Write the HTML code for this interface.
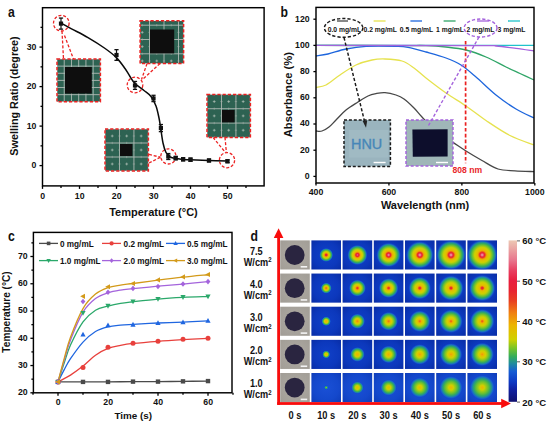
<!DOCTYPE html>
<html><head><meta charset="utf-8"><style>
html,body{margin:0;padding:0;background:#fff;width:550px;height:425px;overflow:hidden;}
svg{display:block;font-family:"Liberation Sans", sans-serif;}
</style></head><body>
<svg width="550" height="425" viewBox="0 0 550 425" font-family='"Liberation Sans", sans-serif'><defs><linearGradient id="cbar" x1="0" y1="0" x2="0" y2="1"><stop offset="0.000" stop-color="#ecc8b4"/><stop offset="0.125" stop-color="#e8748c"/><stop offset="0.188" stop-color="#e83e60"/><stop offset="0.250" stop-color="#e81e3e"/><stop offset="0.312" stop-color="#e82430"/><stop offset="0.375" stop-color="#e84020"/><stop offset="0.450" stop-color="#f08010"/><stop offset="0.525" stop-color="#ecb400"/><stop offset="0.613" stop-color="#d0d000"/><stop offset="0.668" stop-color="#78c428"/><stop offset="0.720" stop-color="#34ac5c"/><stop offset="0.762" stop-color="#208c9c"/><stop offset="0.812" stop-color="#165cd4"/><stop offset="0.875" stop-color="#0e3ac4"/><stop offset="0.925" stop-color="#1020a0"/><stop offset="1.000" stop-color="#10106e"/></linearGradient><radialGradient id="bgblue" cx="0.5" cy="0.5" r="0.72"><stop offset="0" stop-color="#1040c8"/><stop offset="0.6" stop-color="#0c38bc"/><stop offset="1" stop-color="#082ca4"/></radialGradient><radialGradient id="bgblue2" cx="0.5" cy="0.5" r="0.72"><stop offset="0" stop-color="#1a50d6"/><stop offset="0.6" stop-color="#1448cc"/><stop offset="1" stop-color="#0e3cb8"/></radialGradient><radialGradient id="grayph" cx="0.5" cy="0.5" r="0.75"><stop offset="0" stop-color="#aeaaa3"/><stop offset="1" stop-color="#a09c95"/></radialGradient><radialGradient id="sp0_1"><stop offset="0.000" stop-color="#e81e3e" stop-opacity="1.00"/><stop offset="0.050" stop-color="#e81f3b" stop-opacity="1.00"/><stop offset="0.100" stop-color="#e82332" stop-opacity="1.00"/><stop offset="0.150" stop-color="#e83a23" stop-opacity="1.00"/><stop offset="0.200" stop-color="#ed6916" stop-opacity="1.00"/><stop offset="0.250" stop-color="#ef930a" stop-opacity="1.00"/><stop offset="0.300" stop-color="#ecb300" stop-opacity="1.00"/><stop offset="0.350" stop-color="#e2be00" stop-opacity="1.00"/><stop offset="0.400" stop-color="#d9c700" stop-opacity="1.00"/><stop offset="0.450" stop-color="#d2ce00" stop-opacity="1.00"/><stop offset="0.500" stop-color="#bbcd0a" stop-opacity="1.00"/><stop offset="0.550" stop-color="#9cc918" stop-opacity="1.00"/><stop offset="0.600" stop-color="#7cc526" stop-opacity="1.00"/><stop offset="0.650" stop-color="#60bb3b" stop-opacity="1.00"/><stop offset="0.700" stop-color="#42b151" stop-opacity="1.00"/><stop offset="0.750" stop-color="#2ea26f" stop-opacity="1.00"/><stop offset="0.800" stop-color="#228f96" stop-opacity="1.00"/><stop offset="0.850" stop-color="#1b76b6" stop-opacity="1.00"/><stop offset="0.900" stop-color="#165bd4" stop-opacity="0.67"/><stop offset="0.950" stop-color="#124bcc" stop-opacity="0.33"/><stop offset="1.000" stop-color="#0e3ac4" stop-opacity="0.00"/></radialGradient><clipPath id="cl0_1"><rect x="311.40" y="240.40" width="29.60" height="29.10"/></clipPath><radialGradient id="sp0_2"><stop offset="0.000" stop-color="#e85e7a" stop-opacity="1.00"/><stop offset="0.050" stop-color="#e84c6b" stop-opacity="1.00"/><stop offset="0.100" stop-color="#e8294a" stop-opacity="1.00"/><stop offset="0.150" stop-color="#e82332" stop-opacity="1.00"/><stop offset="0.200" stop-color="#e9491e" stop-opacity="1.00"/><stop offset="0.250" stop-color="#f0830f" stop-opacity="1.00"/><stop offset="0.300" stop-color="#eda804" stop-opacity="1.00"/><stop offset="0.350" stop-color="#e5bb00" stop-opacity="1.00"/><stop offset="0.400" stop-color="#dcc400" stop-opacity="1.00"/><stop offset="0.450" stop-color="#d5cb00" stop-opacity="1.00"/><stop offset="0.500" stop-color="#c8cf03" stop-opacity="1.00"/><stop offset="0.550" stop-color="#a9cb12" stop-opacity="1.00"/><stop offset="0.600" stop-color="#88c621" stop-opacity="1.00"/><stop offset="0.650" stop-color="#69bf34" stop-opacity="1.00"/><stop offset="0.700" stop-color="#4ab44b" stop-opacity="1.00"/><stop offset="0.750" stop-color="#30a667" stop-opacity="1.00"/><stop offset="0.800" stop-color="#24928f" stop-opacity="1.00"/><stop offset="0.850" stop-color="#1c79b2" stop-opacity="1.00"/><stop offset="0.900" stop-color="#165dd3" stop-opacity="0.67"/><stop offset="0.950" stop-color="#124ccc" stop-opacity="0.33"/><stop offset="1.000" stop-color="#0e3ac4" stop-opacity="0.00"/></radialGradient><clipPath id="cl0_2"><rect x="342.60" y="240.40" width="29.60" height="29.10"/></clipPath><radialGradient id="sp0_3"><stop offset="0.000" stop-color="#e98594" stop-opacity="1.00"/><stop offset="0.050" stop-color="#e8748c" stop-opacity="1.00"/><stop offset="0.100" stop-color="#e83c5d" stop-opacity="1.00"/><stop offset="0.150" stop-color="#e82137" stop-opacity="1.00"/><stop offset="0.200" stop-color="#e83f21" stop-opacity="1.00"/><stop offset="0.250" stop-color="#f08010" stop-opacity="1.00"/><stop offset="0.300" stop-color="#eda804" stop-opacity="1.00"/><stop offset="0.350" stop-color="#e5bb00" stop-opacity="1.00"/><stop offset="0.400" stop-color="#dcc400" stop-opacity="1.00"/><stop offset="0.450" stop-color="#d5cb00" stop-opacity="1.00"/><stop offset="0.500" stop-color="#c8cf04" stop-opacity="1.00"/><stop offset="0.550" stop-color="#a9cb12" stop-opacity="1.00"/><stop offset="0.600" stop-color="#88c621" stop-opacity="1.00"/><stop offset="0.650" stop-color="#69bf34" stop-opacity="1.00"/><stop offset="0.700" stop-color="#4ab44b" stop-opacity="1.00"/><stop offset="0.750" stop-color="#30a667" stop-opacity="1.00"/><stop offset="0.800" stop-color="#24928f" stop-opacity="1.00"/><stop offset="0.850" stop-color="#1c79b2" stop-opacity="1.00"/><stop offset="0.900" stop-color="#165dd3" stop-opacity="0.67"/><stop offset="0.950" stop-color="#124ccc" stop-opacity="0.33"/><stop offset="1.000" stop-color="#0e3ac4" stop-opacity="0.00"/></radialGradient><clipPath id="cl0_3"><rect x="373.80" y="240.40" width="29.60" height="29.10"/></clipPath><radialGradient id="sp0_4"><stop offset="0.000" stop-color="#ea969c" stop-opacity="1.00"/><stop offset="0.050" stop-color="#e98293" stop-opacity="1.00"/><stop offset="0.100" stop-color="#e84566" stop-opacity="1.00"/><stop offset="0.150" stop-color="#e82138" stop-opacity="1.00"/><stop offset="0.200" stop-color="#e84120" stop-opacity="1.00"/><stop offset="0.250" stop-color="#f0840f" stop-opacity="1.00"/><stop offset="0.300" stop-color="#edac03" stop-opacity="1.00"/><stop offset="0.350" stop-color="#e3bd00" stop-opacity="1.00"/><stop offset="0.400" stop-color="#dbc500" stop-opacity="1.00"/><stop offset="0.450" stop-color="#d4cc00" stop-opacity="1.00"/><stop offset="0.500" stop-color="#c7cf04" stop-opacity="1.00"/><stop offset="0.550" stop-color="#a9cb12" stop-opacity="1.00"/><stop offset="0.600" stop-color="#88c621" stop-opacity="1.00"/><stop offset="0.650" stop-color="#69bf34" stop-opacity="1.00"/><stop offset="0.700" stop-color="#4ab44b" stop-opacity="1.00"/><stop offset="0.750" stop-color="#30a667" stop-opacity="1.00"/><stop offset="0.800" stop-color="#24928f" stop-opacity="1.00"/><stop offset="0.850" stop-color="#1c79b2" stop-opacity="1.00"/><stop offset="0.900" stop-color="#165dd3" stop-opacity="0.67"/><stop offset="0.950" stop-color="#124ccc" stop-opacity="0.33"/><stop offset="1.000" stop-color="#0e3ac4" stop-opacity="0.00"/></radialGradient><clipPath id="cl0_4"><rect x="405.00" y="240.40" width="29.60" height="29.10"/></clipPath><radialGradient id="sp0_5"><stop offset="0.000" stop-color="#ea969c" stop-opacity="1.00"/><stop offset="0.050" stop-color="#e98293" stop-opacity="1.00"/><stop offset="0.100" stop-color="#e84566" stop-opacity="1.00"/><stop offset="0.150" stop-color="#e82138" stop-opacity="1.00"/><stop offset="0.200" stop-color="#e84120" stop-opacity="1.00"/><stop offset="0.250" stop-color="#f0840f" stop-opacity="1.00"/><stop offset="0.300" stop-color="#edac03" stop-opacity="1.00"/><stop offset="0.350" stop-color="#e3bd00" stop-opacity="1.00"/><stop offset="0.400" stop-color="#dbc500" stop-opacity="1.00"/><stop offset="0.450" stop-color="#d4cc00" stop-opacity="1.00"/><stop offset="0.500" stop-color="#c7cf04" stop-opacity="1.00"/><stop offset="0.550" stop-color="#a9cb12" stop-opacity="1.00"/><stop offset="0.600" stop-color="#88c621" stop-opacity="1.00"/><stop offset="0.650" stop-color="#69bf34" stop-opacity="1.00"/><stop offset="0.700" stop-color="#4ab44b" stop-opacity="1.00"/><stop offset="0.750" stop-color="#30a667" stop-opacity="1.00"/><stop offset="0.800" stop-color="#24928f" stop-opacity="1.00"/><stop offset="0.850" stop-color="#1c79b2" stop-opacity="1.00"/><stop offset="0.900" stop-color="#165dd3" stop-opacity="0.67"/><stop offset="0.950" stop-color="#124ccc" stop-opacity="0.33"/><stop offset="1.000" stop-color="#0e3ac4" stop-opacity="0.00"/></radialGradient><clipPath id="cl0_5"><rect x="436.20" y="240.40" width="29.60" height="29.10"/></clipPath><radialGradient id="sp0_6"><stop offset="0.000" stop-color="#ea969c" stop-opacity="1.00"/><stop offset="0.050" stop-color="#e98192" stop-opacity="1.00"/><stop offset="0.100" stop-color="#e84062" stop-opacity="1.00"/><stop offset="0.150" stop-color="#e82236" stop-opacity="1.00"/><stop offset="0.200" stop-color="#e94a1d" stop-opacity="1.00"/><stop offset="0.250" stop-color="#ef8b0d" stop-opacity="1.00"/><stop offset="0.300" stop-color="#ecb001" stop-opacity="1.00"/><stop offset="0.350" stop-color="#e2be00" stop-opacity="1.00"/><stop offset="0.400" stop-color="#dac600" stop-opacity="1.00"/><stop offset="0.450" stop-color="#d4cc00" stop-opacity="1.00"/><stop offset="0.500" stop-color="#c7cf04" stop-opacity="1.00"/><stop offset="0.550" stop-color="#a8cb12" stop-opacity="1.00"/><stop offset="0.600" stop-color="#88c621" stop-opacity="1.00"/><stop offset="0.650" stop-color="#69bf34" stop-opacity="1.00"/><stop offset="0.700" stop-color="#4ab44b" stop-opacity="1.00"/><stop offset="0.750" stop-color="#30a667" stop-opacity="1.00"/><stop offset="0.800" stop-color="#24928f" stop-opacity="1.00"/><stop offset="0.850" stop-color="#1c79b2" stop-opacity="1.00"/><stop offset="0.900" stop-color="#165dd3" stop-opacity="0.67"/><stop offset="0.950" stop-color="#124ccc" stop-opacity="0.33"/><stop offset="1.000" stop-color="#0e3ac4" stop-opacity="0.00"/></radialGradient><clipPath id="cl0_6"><rect x="467.40" y="240.40" width="29.60" height="29.10"/></clipPath><radialGradient id="sp1_1"><stop offset="0.000" stop-color="#ed6b15" stop-opacity="1.00"/><stop offset="0.050" stop-color="#ee6f14" stop-opacity="1.00"/><stop offset="0.100" stop-color="#ef7c11" stop-opacity="1.00"/><stop offset="0.150" stop-color="#ef8c0c" stop-opacity="1.00"/><stop offset="0.200" stop-color="#ee9e07" stop-opacity="1.00"/><stop offset="0.250" stop-color="#ecb101" stop-opacity="1.00"/><stop offset="0.300" stop-color="#e4bc00" stop-opacity="1.00"/><stop offset="0.350" stop-color="#dcc400" stop-opacity="1.00"/><stop offset="0.400" stop-color="#d5cb00" stop-opacity="1.00"/><stop offset="0.450" stop-color="#c5ce05" stop-opacity="1.00"/><stop offset="0.500" stop-color="#a4ca14" stop-opacity="1.00"/><stop offset="0.550" stop-color="#85c622" stop-opacity="1.00"/><stop offset="0.600" stop-color="#69bf34" stop-opacity="1.00"/><stop offset="0.650" stop-color="#4eb548" stop-opacity="1.00"/><stop offset="0.700" stop-color="#34ab5d" stop-opacity="1.00"/><stop offset="0.750" stop-color="#299a7f" stop-opacity="1.00"/><stop offset="0.800" stop-color="#1f88a1" stop-opacity="1.00"/><stop offset="0.850" stop-color="#1a70bd" stop-opacity="1.00"/><stop offset="0.900" stop-color="#1559d3" stop-opacity="0.67"/><stop offset="0.950" stop-color="#124acb" stop-opacity="0.33"/><stop offset="1.000" stop-color="#0e3ac4" stop-opacity="0.00"/></radialGradient><clipPath id="cl1_1"><rect x="311.40" y="273.55" width="29.60" height="29.10"/></clipPath><radialGradient id="sp1_2"><stop offset="0.000" stop-color="#e82f2a" stop-opacity="1.00"/><stop offset="0.050" stop-color="#e83626" stop-opacity="1.00"/><stop offset="0.100" stop-color="#ea4d1d" stop-opacity="1.00"/><stop offset="0.150" stop-color="#ef7812" stop-opacity="1.00"/><stop offset="0.200" stop-color="#ee9c07" stop-opacity="1.00"/><stop offset="0.250" stop-color="#eab600" stop-opacity="1.00"/><stop offset="0.300" stop-color="#e0c000" stop-opacity="1.00"/><stop offset="0.350" stop-color="#d9c700" stop-opacity="1.00"/><stop offset="0.400" stop-color="#d3cd00" stop-opacity="1.00"/><stop offset="0.450" stop-color="#c4ce06" stop-opacity="1.00"/><stop offset="0.500" stop-color="#a9cb12" stop-opacity="1.00"/><stop offset="0.550" stop-color="#8dc71e" stop-opacity="1.00"/><stop offset="0.600" stop-color="#71c12e" stop-opacity="1.00"/><stop offset="0.650" stop-color="#57b842" stop-opacity="1.00"/><stop offset="0.700" stop-color="#3aae57" stop-opacity="1.00"/><stop offset="0.750" stop-color="#2b9e77" stop-opacity="1.00"/><stop offset="0.800" stop-color="#208c9c" stop-opacity="1.00"/><stop offset="0.850" stop-color="#1b73b9" stop-opacity="1.00"/><stop offset="0.900" stop-color="#165ad3" stop-opacity="0.67"/><stop offset="0.950" stop-color="#124acc" stop-opacity="0.33"/><stop offset="1.000" stop-color="#0e3ac4" stop-opacity="0.00"/></radialGradient><clipPath id="cl1_2"><rect x="342.60" y="273.55" width="29.60" height="29.10"/></clipPath><radialGradient id="sp1_3"><stop offset="0.000" stop-color="#e82430" stop-opacity="1.00"/><stop offset="0.050" stop-color="#e82d2b" stop-opacity="1.00"/><stop offset="0.100" stop-color="#e94a1d" stop-opacity="1.00"/><stop offset="0.150" stop-color="#f08110" stop-opacity="1.00"/><stop offset="0.200" stop-color="#eda804" stop-opacity="1.00"/><stop offset="0.250" stop-color="#e5bb00" stop-opacity="1.00"/><stop offset="0.300" stop-color="#ddc300" stop-opacity="1.00"/><stop offset="0.350" stop-color="#d7c900" stop-opacity="1.00"/><stop offset="0.400" stop-color="#d2ce00" stop-opacity="1.00"/><stop offset="0.450" stop-color="#c2ce06" stop-opacity="1.00"/><stop offset="0.500" stop-color="#a9cb12" stop-opacity="1.00"/><stop offset="0.550" stop-color="#8dc71e" stop-opacity="1.00"/><stop offset="0.600" stop-color="#71c12e" stop-opacity="1.00"/><stop offset="0.650" stop-color="#57b842" stop-opacity="1.00"/><stop offset="0.700" stop-color="#3aae57" stop-opacity="1.00"/><stop offset="0.750" stop-color="#2b9e77" stop-opacity="1.00"/><stop offset="0.800" stop-color="#208c9c" stop-opacity="1.00"/><stop offset="0.850" stop-color="#1b73b9" stop-opacity="1.00"/><stop offset="0.900" stop-color="#165ad3" stop-opacity="0.67"/><stop offset="0.950" stop-color="#124acc" stop-opacity="0.33"/><stop offset="1.000" stop-color="#0e3ac4" stop-opacity="0.00"/></radialGradient><clipPath id="cl1_3"><rect x="373.80" y="273.55" width="29.60" height="29.10"/></clipPath><radialGradient id="sp1_4"><stop offset="0.000" stop-color="#e82236" stop-opacity="1.00"/><stop offset="0.050" stop-color="#e82530" stop-opacity="1.00"/><stop offset="0.100" stop-color="#e8441f" stop-opacity="1.00"/><stop offset="0.150" stop-color="#f0830f" stop-opacity="1.00"/><stop offset="0.200" stop-color="#edac02" stop-opacity="1.00"/><stop offset="0.250" stop-color="#e3bd00" stop-opacity="1.00"/><stop offset="0.300" stop-color="#dcc400" stop-opacity="1.00"/><stop offset="0.350" stop-color="#d6ca00" stop-opacity="1.00"/><stop offset="0.400" stop-color="#d2ce00" stop-opacity="1.00"/><stop offset="0.450" stop-color="#c2ce06" stop-opacity="1.00"/><stop offset="0.500" stop-color="#a9cb12" stop-opacity="1.00"/><stop offset="0.550" stop-color="#8dc71e" stop-opacity="1.00"/><stop offset="0.600" stop-color="#71c12e" stop-opacity="1.00"/><stop offset="0.650" stop-color="#57b842" stop-opacity="1.00"/><stop offset="0.700" stop-color="#3aae57" stop-opacity="1.00"/><stop offset="0.750" stop-color="#2b9e77" stop-opacity="1.00"/><stop offset="0.800" stop-color="#208c9c" stop-opacity="1.00"/><stop offset="0.850" stop-color="#1b73b9" stop-opacity="1.00"/><stop offset="0.900" stop-color="#165ad3" stop-opacity="0.67"/><stop offset="0.950" stop-color="#124acc" stop-opacity="0.33"/><stop offset="1.000" stop-color="#0e3ac4" stop-opacity="0.00"/></radialGradient><clipPath id="cl1_4"><rect x="405.00" y="273.55" width="29.60" height="29.10"/></clipPath><radialGradient id="sp1_5"><stop offset="0.000" stop-color="#e82236" stop-opacity="1.00"/><stop offset="0.050" stop-color="#e8272e" stop-opacity="1.00"/><stop offset="0.100" stop-color="#ea521c" stop-opacity="1.00"/><stop offset="0.150" stop-color="#ef910b" stop-opacity="1.00"/><stop offset="0.200" stop-color="#eab600" stop-opacity="1.00"/><stop offset="0.250" stop-color="#e0c000" stop-opacity="1.00"/><stop offset="0.300" stop-color="#dac600" stop-opacity="1.00"/><stop offset="0.350" stop-color="#d6ca00" stop-opacity="1.00"/><stop offset="0.400" stop-color="#d2ce00" stop-opacity="1.00"/><stop offset="0.450" stop-color="#c2ce06" stop-opacity="1.00"/><stop offset="0.500" stop-color="#a9cb12" stop-opacity="1.00"/><stop offset="0.550" stop-color="#8dc71e" stop-opacity="1.00"/><stop offset="0.600" stop-color="#71c12e" stop-opacity="1.00"/><stop offset="0.650" stop-color="#57b842" stop-opacity="1.00"/><stop offset="0.700" stop-color="#3aae57" stop-opacity="1.00"/><stop offset="0.750" stop-color="#2b9e77" stop-opacity="1.00"/><stop offset="0.800" stop-color="#208c9c" stop-opacity="1.00"/><stop offset="0.850" stop-color="#1b73b9" stop-opacity="1.00"/><stop offset="0.900" stop-color="#165ad3" stop-opacity="0.67"/><stop offset="0.950" stop-color="#124acc" stop-opacity="0.33"/><stop offset="1.000" stop-color="#0e3ac4" stop-opacity="0.00"/></radialGradient><clipPath id="cl1_5"><rect x="436.20" y="273.55" width="29.60" height="29.10"/></clipPath><radialGradient id="sp1_6"><stop offset="0.000" stop-color="#e81f3b" stop-opacity="1.00"/><stop offset="0.050" stop-color="#e82333" stop-opacity="1.00"/><stop offset="0.100" stop-color="#e94c1d" stop-opacity="1.00"/><stop offset="0.150" stop-color="#ef920a" stop-opacity="1.00"/><stop offset="0.200" stop-color="#e9b700" stop-opacity="1.00"/><stop offset="0.250" stop-color="#dfc100" stop-opacity="1.00"/><stop offset="0.300" stop-color="#dac600" stop-opacity="1.00"/><stop offset="0.350" stop-color="#d6ca00" stop-opacity="1.00"/><stop offset="0.400" stop-color="#d2ce00" stop-opacity="1.00"/><stop offset="0.450" stop-color="#c2ce06" stop-opacity="1.00"/><stop offset="0.500" stop-color="#a9cb12" stop-opacity="1.00"/><stop offset="0.550" stop-color="#8dc71e" stop-opacity="1.00"/><stop offset="0.600" stop-color="#71c12e" stop-opacity="1.00"/><stop offset="0.650" stop-color="#57b842" stop-opacity="1.00"/><stop offset="0.700" stop-color="#3aae57" stop-opacity="1.00"/><stop offset="0.750" stop-color="#2b9e77" stop-opacity="1.00"/><stop offset="0.800" stop-color="#208c9c" stop-opacity="1.00"/><stop offset="0.850" stop-color="#1b73b9" stop-opacity="1.00"/><stop offset="0.900" stop-color="#165ad3" stop-opacity="0.67"/><stop offset="0.950" stop-color="#124acc" stop-opacity="0.33"/><stop offset="1.000" stop-color="#0e3ac4" stop-opacity="0.00"/></radialGradient><clipPath id="cl1_6"><rect x="467.40" y="273.55" width="29.60" height="29.10"/></clipPath><radialGradient id="sp2_1"><stop offset="0.000" stop-color="#edab03" stop-opacity="1.00"/><stop offset="0.050" stop-color="#edad02" stop-opacity="1.00"/><stop offset="0.100" stop-color="#ecb201" stop-opacity="1.00"/><stop offset="0.150" stop-color="#e9b700" stop-opacity="1.00"/><stop offset="0.200" stop-color="#e5bb00" stop-opacity="1.00"/><stop offset="0.250" stop-color="#e0c000" stop-opacity="1.00"/><stop offset="0.300" stop-color="#dac600" stop-opacity="1.00"/><stop offset="0.350" stop-color="#d5cb00" stop-opacity="1.00"/><stop offset="0.400" stop-color="#cbcf02" stop-opacity="1.00"/><stop offset="0.450" stop-color="#afcc0f" stop-opacity="1.00"/><stop offset="0.500" stop-color="#93c81c" stop-opacity="1.00"/><stop offset="0.550" stop-color="#77c429" stop-opacity="1.00"/><stop offset="0.600" stop-color="#5fbb3b" stop-opacity="1.00"/><stop offset="0.650" stop-color="#45b24f" stop-opacity="1.00"/><stop offset="0.700" stop-color="#31a766" stop-opacity="1.00"/><stop offset="0.750" stop-color="#279787" stop-opacity="1.00"/><stop offset="0.800" stop-color="#1e84a6" stop-opacity="1.00"/><stop offset="0.850" stop-color="#196dc1" stop-opacity="1.00"/><stop offset="0.900" stop-color="#1558d2" stop-opacity="0.67"/><stop offset="0.950" stop-color="#1249cb" stop-opacity="0.33"/><stop offset="1.000" stop-color="#0e3ac4" stop-opacity="0.00"/></radialGradient><clipPath id="cl2_1"><rect x="311.40" y="306.70" width="29.60" height="29.10"/></clipPath><radialGradient id="sp2_2"><stop offset="0.000" stop-color="#ef890d" stop-opacity="1.00"/><stop offset="0.050" stop-color="#ef8d0c" stop-opacity="1.00"/><stop offset="0.100" stop-color="#ee9908" stop-opacity="1.00"/><stop offset="0.150" stop-color="#eda903" stop-opacity="1.00"/><stop offset="0.200" stop-color="#e8b800" stop-opacity="1.00"/><stop offset="0.250" stop-color="#e0c000" stop-opacity="1.00"/><stop offset="0.300" stop-color="#d9c700" stop-opacity="1.00"/><stop offset="0.350" stop-color="#d3cd00" stop-opacity="1.00"/><stop offset="0.400" stop-color="#c1ce07" stop-opacity="1.00"/><stop offset="0.450" stop-color="#a7ca13" stop-opacity="1.00"/><stop offset="0.500" stop-color="#8dc71e" stop-opacity="1.00"/><stop offset="0.550" stop-color="#74c22b" stop-opacity="1.00"/><stop offset="0.600" stop-color="#5dba3d" stop-opacity="1.00"/><stop offset="0.650" stop-color="#44b24f" stop-opacity="1.00"/><stop offset="0.700" stop-color="#31a667" stop-opacity="1.00"/><stop offset="0.750" stop-color="#279687" stop-opacity="1.00"/><stop offset="0.800" stop-color="#1e84a6" stop-opacity="1.00"/><stop offset="0.850" stop-color="#196dc1" stop-opacity="1.00"/><stop offset="0.900" stop-color="#1558d2" stop-opacity="0.67"/><stop offset="0.950" stop-color="#1249cb" stop-opacity="0.33"/><stop offset="1.000" stop-color="#0e3ac4" stop-opacity="0.00"/></radialGradient><clipPath id="cl2_2"><rect x="342.60" y="306.70" width="29.60" height="29.10"/></clipPath><radialGradient id="sp2_3"><stop offset="0.000" stop-color="#ef7513" stop-opacity="1.00"/><stop offset="0.050" stop-color="#f07e10" stop-opacity="1.00"/><stop offset="0.100" stop-color="#ef920b" stop-opacity="1.00"/><stop offset="0.150" stop-color="#edaa03" stop-opacity="1.00"/><stop offset="0.200" stop-color="#e6ba00" stop-opacity="1.00"/><stop offset="0.250" stop-color="#ddc300" stop-opacity="1.00"/><stop offset="0.300" stop-color="#d6ca00" stop-opacity="1.00"/><stop offset="0.350" stop-color="#d0d000" stop-opacity="1.00"/><stop offset="0.400" stop-color="#bacd0a" stop-opacity="1.00"/><stop offset="0.450" stop-color="#a3ca14" stop-opacity="1.00"/><stop offset="0.500" stop-color="#8cc71f" stop-opacity="1.00"/><stop offset="0.550" stop-color="#73c22c" stop-opacity="1.00"/><stop offset="0.600" stop-color="#5dba3d" stop-opacity="1.00"/><stop offset="0.650" stop-color="#44b24f" stop-opacity="1.00"/><stop offset="0.700" stop-color="#31a667" stop-opacity="1.00"/><stop offset="0.750" stop-color="#279687" stop-opacity="1.00"/><stop offset="0.800" stop-color="#1e84a6" stop-opacity="1.00"/><stop offset="0.850" stop-color="#196dc1" stop-opacity="1.00"/><stop offset="0.900" stop-color="#1558d2" stop-opacity="0.67"/><stop offset="0.950" stop-color="#1249cb" stop-opacity="0.33"/><stop offset="1.000" stop-color="#0e3ac4" stop-opacity="0.00"/></radialGradient><clipPath id="cl2_3"><rect x="373.80" y="306.70" width="29.60" height="29.10"/></clipPath><radialGradient id="sp2_4"><stop offset="0.000" stop-color="#ed6b15" stop-opacity="1.00"/><stop offset="0.050" stop-color="#ef7712" stop-opacity="1.00"/><stop offset="0.100" stop-color="#ef920b" stop-opacity="1.00"/><stop offset="0.150" stop-color="#ecaf01" stop-opacity="1.00"/><stop offset="0.200" stop-color="#e2be00" stop-opacity="1.00"/><stop offset="0.250" stop-color="#dac600" stop-opacity="1.00"/><stop offset="0.300" stop-color="#d4cc00" stop-opacity="1.00"/><stop offset="0.350" stop-color="#cdd001" stop-opacity="1.00"/><stop offset="0.400" stop-color="#b8cd0b" stop-opacity="1.00"/><stop offset="0.450" stop-color="#a3ca15" stop-opacity="1.00"/><stop offset="0.500" stop-color="#8bc71f" stop-opacity="1.00"/><stop offset="0.550" stop-color="#73c22c" stop-opacity="1.00"/><stop offset="0.600" stop-color="#5dba3d" stop-opacity="1.00"/><stop offset="0.650" stop-color="#44b24f" stop-opacity="1.00"/><stop offset="0.700" stop-color="#31a667" stop-opacity="1.00"/><stop offset="0.750" stop-color="#279687" stop-opacity="1.00"/><stop offset="0.800" stop-color="#1e84a6" stop-opacity="1.00"/><stop offset="0.850" stop-color="#196dc1" stop-opacity="1.00"/><stop offset="0.900" stop-color="#1558d2" stop-opacity="0.67"/><stop offset="0.950" stop-color="#1249cb" stop-opacity="0.33"/><stop offset="1.000" stop-color="#0e3ac4" stop-opacity="0.00"/></radialGradient><clipPath id="cl2_4"><rect x="405.00" y="306.70" width="29.60" height="29.10"/></clipPath><radialGradient id="sp2_5"><stop offset="0.000" stop-color="#ec6018" stop-opacity="1.00"/><stop offset="0.050" stop-color="#ee6f14" stop-opacity="1.00"/><stop offset="0.100" stop-color="#ef910b" stop-opacity="1.00"/><stop offset="0.150" stop-color="#ecb300" stop-opacity="1.00"/><stop offset="0.200" stop-color="#e0c000" stop-opacity="1.00"/><stop offset="0.250" stop-color="#d8c800" stop-opacity="1.00"/><stop offset="0.300" stop-color="#d3cd00" stop-opacity="1.00"/><stop offset="0.350" stop-color="#cccf02" stop-opacity="1.00"/><stop offset="0.400" stop-color="#b8cd0b" stop-opacity="1.00"/><stop offset="0.450" stop-color="#a3ca15" stop-opacity="1.00"/><stop offset="0.500" stop-color="#8bc71f" stop-opacity="1.00"/><stop offset="0.550" stop-color="#73c22c" stop-opacity="1.00"/><stop offset="0.600" stop-color="#5dba3d" stop-opacity="1.00"/><stop offset="0.650" stop-color="#44b24f" stop-opacity="1.00"/><stop offset="0.700" stop-color="#31a667" stop-opacity="1.00"/><stop offset="0.750" stop-color="#279687" stop-opacity="1.00"/><stop offset="0.800" stop-color="#1e84a6" stop-opacity="1.00"/><stop offset="0.850" stop-color="#196dc1" stop-opacity="1.00"/><stop offset="0.900" stop-color="#1558d2" stop-opacity="0.67"/><stop offset="0.950" stop-color="#1249cb" stop-opacity="0.33"/><stop offset="1.000" stop-color="#0e3ac4" stop-opacity="0.00"/></radialGradient><clipPath id="cl2_5"><rect x="436.20" y="306.70" width="29.60" height="29.10"/></clipPath><radialGradient id="sp2_6"><stop offset="0.000" stop-color="#eb551b" stop-opacity="1.00"/><stop offset="0.050" stop-color="#ed6716" stop-opacity="1.00"/><stop offset="0.100" stop-color="#ef8e0c" stop-opacity="1.00"/><stop offset="0.150" stop-color="#ecb300" stop-opacity="1.00"/><stop offset="0.200" stop-color="#e0c000" stop-opacity="1.00"/><stop offset="0.250" stop-color="#d8c800" stop-opacity="1.00"/><stop offset="0.300" stop-color="#d3cd00" stop-opacity="1.00"/><stop offset="0.350" stop-color="#cbcf02" stop-opacity="1.00"/><stop offset="0.400" stop-color="#b8cd0b" stop-opacity="1.00"/><stop offset="0.450" stop-color="#a3ca15" stop-opacity="1.00"/><stop offset="0.500" stop-color="#8bc71f" stop-opacity="1.00"/><stop offset="0.550" stop-color="#73c22c" stop-opacity="1.00"/><stop offset="0.600" stop-color="#5dba3d" stop-opacity="1.00"/><stop offset="0.650" stop-color="#44b24f" stop-opacity="1.00"/><stop offset="0.700" stop-color="#31a667" stop-opacity="1.00"/><stop offset="0.750" stop-color="#279687" stop-opacity="1.00"/><stop offset="0.800" stop-color="#1e84a6" stop-opacity="1.00"/><stop offset="0.850" stop-color="#196dc1" stop-opacity="1.00"/><stop offset="0.900" stop-color="#1558d2" stop-opacity="0.67"/><stop offset="0.950" stop-color="#1249cb" stop-opacity="0.33"/><stop offset="1.000" stop-color="#0e3ac4" stop-opacity="0.00"/></radialGradient><clipPath id="cl2_6"><rect x="467.40" y="306.70" width="29.60" height="29.10"/></clipPath><radialGradient id="sp3_1"><stop offset="0.000" stop-color="#e4bc00" stop-opacity="1.00"/><stop offset="0.050" stop-color="#e4bc00" stop-opacity="1.00"/><stop offset="0.100" stop-color="#e2be00" stop-opacity="1.00"/><stop offset="0.150" stop-color="#e0c000" stop-opacity="1.00"/><stop offset="0.200" stop-color="#dec200" stop-opacity="1.00"/><stop offset="0.250" stop-color="#dac600" stop-opacity="1.00"/><stop offset="0.300" stop-color="#d6ca00" stop-opacity="1.00"/><stop offset="0.350" stop-color="#d2ce00" stop-opacity="1.00"/><stop offset="0.400" stop-color="#c5ce05" stop-opacity="1.00"/><stop offset="0.450" stop-color="#accb10" stop-opacity="1.00"/><stop offset="0.500" stop-color="#92c81c" stop-opacity="1.00"/><stop offset="0.550" stop-color="#77c429" stop-opacity="1.00"/><stop offset="0.600" stop-color="#5fbb3b" stop-opacity="1.00"/><stop offset="0.650" stop-color="#46b24e" stop-opacity="1.00"/><stop offset="0.700" stop-color="#31a766" stop-opacity="1.00"/><stop offset="0.750" stop-color="#279786" stop-opacity="1.00"/><stop offset="0.800" stop-color="#1e84a6" stop-opacity="1.00"/><stop offset="0.850" stop-color="#196dc1" stop-opacity="1.00"/><stop offset="0.900" stop-color="#1558d2" stop-opacity="0.67"/><stop offset="0.950" stop-color="#1249cb" stop-opacity="0.33"/><stop offset="1.000" stop-color="#0e3ac4" stop-opacity="0.00"/></radialGradient><clipPath id="cl3_1"><rect x="311.40" y="339.85" width="29.60" height="29.10"/></clipPath><radialGradient id="sp3_2"><stop offset="0.000" stop-color="#ecb400" stop-opacity="1.00"/><stop offset="0.050" stop-color="#ebb500" stop-opacity="1.00"/><stop offset="0.100" stop-color="#e8b800" stop-opacity="1.00"/><stop offset="0.150" stop-color="#e4bc00" stop-opacity="1.00"/><stop offset="0.200" stop-color="#dfc100" stop-opacity="1.00"/><stop offset="0.250" stop-color="#dac600" stop-opacity="1.00"/><stop offset="0.300" stop-color="#d4cc00" stop-opacity="1.00"/><stop offset="0.350" stop-color="#cbcf02" stop-opacity="1.00"/><stop offset="0.400" stop-color="#b2cc0e" stop-opacity="1.00"/><stop offset="0.450" stop-color="#99c819" stop-opacity="1.00"/><stop offset="0.500" stop-color="#80c524" stop-opacity="1.00"/><stop offset="0.550" stop-color="#69bf33" stop-opacity="1.00"/><stop offset="0.600" stop-color="#53b744" stop-opacity="1.00"/><stop offset="0.650" stop-color="#3caf56" stop-opacity="1.00"/><stop offset="0.700" stop-color="#2ea270" stop-opacity="1.00"/><stop offset="0.750" stop-color="#24928f" stop-opacity="1.00"/><stop offset="0.800" stop-color="#1d7fab" stop-opacity="1.00"/><stop offset="0.850" stop-color="#1969c4" stop-opacity="1.00"/><stop offset="0.900" stop-color="#1556d1" stop-opacity="0.67"/><stop offset="0.950" stop-color="#1149cb" stop-opacity="0.33"/><stop offset="1.000" stop-color="#0e3ac4" stop-opacity="0.00"/></radialGradient><clipPath id="cl3_2"><rect x="342.60" y="339.85" width="29.60" height="29.10"/></clipPath><radialGradient id="sp3_3"><stop offset="0.000" stop-color="#edab03" stop-opacity="1.00"/><stop offset="0.050" stop-color="#ecaf02" stop-opacity="1.00"/><stop offset="0.100" stop-color="#eab600" stop-opacity="1.00"/><stop offset="0.150" stop-color="#e5bb00" stop-opacity="1.00"/><stop offset="0.200" stop-color="#dec200" stop-opacity="1.00"/><stop offset="0.250" stop-color="#d8c800" stop-opacity="1.00"/><stop offset="0.300" stop-color="#d3cd00" stop-opacity="1.00"/><stop offset="0.350" stop-color="#c3ce06" stop-opacity="1.00"/><stop offset="0.400" stop-color="#accb10" stop-opacity="1.00"/><stop offset="0.450" stop-color="#95c81b" stop-opacity="1.00"/><stop offset="0.500" stop-color="#7ec525" stop-opacity="1.00"/><stop offset="0.550" stop-color="#68be34" stop-opacity="1.00"/><stop offset="0.600" stop-color="#53b745" stop-opacity="1.00"/><stop offset="0.650" stop-color="#3baf56" stop-opacity="1.00"/><stop offset="0.700" stop-color="#2ea270" stop-opacity="1.00"/><stop offset="0.750" stop-color="#24928f" stop-opacity="1.00"/><stop offset="0.800" stop-color="#1d7fab" stop-opacity="1.00"/><stop offset="0.850" stop-color="#1969c4" stop-opacity="1.00"/><stop offset="0.900" stop-color="#1556d1" stop-opacity="0.67"/><stop offset="0.950" stop-color="#1149cb" stop-opacity="0.33"/><stop offset="1.000" stop-color="#0e3ac4" stop-opacity="0.00"/></radialGradient><clipPath id="cl3_3"><rect x="373.80" y="339.85" width="29.60" height="29.10"/></clipPath><radialGradient id="sp3_4"><stop offset="0.000" stop-color="#eda305" stop-opacity="1.00"/><stop offset="0.050" stop-color="#eda704" stop-opacity="1.00"/><stop offset="0.100" stop-color="#ecb400" stop-opacity="1.00"/><stop offset="0.150" stop-color="#e5bb00" stop-opacity="1.00"/><stop offset="0.200" stop-color="#ddc300" stop-opacity="1.00"/><stop offset="0.250" stop-color="#d6ca00" stop-opacity="1.00"/><stop offset="0.300" stop-color="#d1cf00" stop-opacity="1.00"/><stop offset="0.350" stop-color="#bece08" stop-opacity="1.00"/><stop offset="0.400" stop-color="#a9cb12" stop-opacity="1.00"/><stop offset="0.450" stop-color="#94c81b" stop-opacity="1.00"/><stop offset="0.500" stop-color="#7dc526" stop-opacity="1.00"/><stop offset="0.550" stop-color="#68be34" stop-opacity="1.00"/><stop offset="0.600" stop-color="#53b745" stop-opacity="1.00"/><stop offset="0.650" stop-color="#3baf56" stop-opacity="1.00"/><stop offset="0.700" stop-color="#2ea270" stop-opacity="1.00"/><stop offset="0.750" stop-color="#24928f" stop-opacity="1.00"/><stop offset="0.800" stop-color="#1d7fab" stop-opacity="1.00"/><stop offset="0.850" stop-color="#1969c4" stop-opacity="1.00"/><stop offset="0.900" stop-color="#1556d1" stop-opacity="0.67"/><stop offset="0.950" stop-color="#1149cb" stop-opacity="0.33"/><stop offset="1.000" stop-color="#0e3ac4" stop-opacity="0.00"/></radialGradient><clipPath id="cl3_4"><rect x="405.00" y="339.85" width="29.60" height="29.10"/></clipPath><radialGradient id="sp3_5"><stop offset="0.000" stop-color="#eda305" stop-opacity="1.00"/><stop offset="0.050" stop-color="#eda804" stop-opacity="1.00"/><stop offset="0.100" stop-color="#ebb500" stop-opacity="1.00"/><stop offset="0.150" stop-color="#e3bd00" stop-opacity="1.00"/><stop offset="0.200" stop-color="#dbc500" stop-opacity="1.00"/><stop offset="0.250" stop-color="#d5cb00" stop-opacity="1.00"/><stop offset="0.300" stop-color="#d0d000" stop-opacity="1.00"/><stop offset="0.350" stop-color="#bccd09" stop-opacity="1.00"/><stop offset="0.400" stop-color="#a8cb12" stop-opacity="1.00"/><stop offset="0.450" stop-color="#93c81c" stop-opacity="1.00"/><stop offset="0.500" stop-color="#7dc526" stop-opacity="1.00"/><stop offset="0.550" stop-color="#68be34" stop-opacity="1.00"/><stop offset="0.600" stop-color="#53b745" stop-opacity="1.00"/><stop offset="0.650" stop-color="#3baf56" stop-opacity="1.00"/><stop offset="0.700" stop-color="#2ea270" stop-opacity="1.00"/><stop offset="0.750" stop-color="#24928f" stop-opacity="1.00"/><stop offset="0.800" stop-color="#1d7fab" stop-opacity="1.00"/><stop offset="0.850" stop-color="#1969c4" stop-opacity="1.00"/><stop offset="0.900" stop-color="#1556d1" stop-opacity="0.67"/><stop offset="0.950" stop-color="#1149cb" stop-opacity="0.33"/><stop offset="1.000" stop-color="#0e3ac4" stop-opacity="0.00"/></radialGradient><clipPath id="cl3_5"><rect x="436.20" y="339.85" width="29.60" height="29.10"/></clipPath><radialGradient id="sp3_6"><stop offset="0.000" stop-color="#ee9a08" stop-opacity="1.00"/><stop offset="0.050" stop-color="#eda106" stop-opacity="1.00"/><stop offset="0.100" stop-color="#ecb101" stop-opacity="1.00"/><stop offset="0.150" stop-color="#e4bc00" stop-opacity="1.00"/><stop offset="0.200" stop-color="#dbc500" stop-opacity="1.00"/><stop offset="0.250" stop-color="#d5cb00" stop-opacity="1.00"/><stop offset="0.300" stop-color="#d0d000" stop-opacity="1.00"/><stop offset="0.350" stop-color="#bbcd09" stop-opacity="1.00"/><stop offset="0.400" stop-color="#a8cb12" stop-opacity="1.00"/><stop offset="0.450" stop-color="#93c81c" stop-opacity="1.00"/><stop offset="0.500" stop-color="#7dc526" stop-opacity="1.00"/><stop offset="0.550" stop-color="#68be34" stop-opacity="1.00"/><stop offset="0.600" stop-color="#53b745" stop-opacity="1.00"/><stop offset="0.650" stop-color="#3baf56" stop-opacity="1.00"/><stop offset="0.700" stop-color="#2ea270" stop-opacity="1.00"/><stop offset="0.750" stop-color="#24928f" stop-opacity="1.00"/><stop offset="0.800" stop-color="#1d7fab" stop-opacity="1.00"/><stop offset="0.850" stop-color="#1969c4" stop-opacity="1.00"/><stop offset="0.900" stop-color="#1556d1" stop-opacity="0.67"/><stop offset="0.950" stop-color="#1149cb" stop-opacity="0.33"/><stop offset="1.000" stop-color="#0e3ac4" stop-opacity="0.00"/></radialGradient><clipPath id="cl3_6"><rect x="467.40" y="339.85" width="29.60" height="29.10"/></clipPath><radialGradient id="sp4_1"><stop offset="0.000" stop-color="#94c81b" stop-opacity="1.00"/><stop offset="0.050" stop-color="#91c71d" stop-opacity="1.00"/><stop offset="0.100" stop-color="#88c621" stop-opacity="1.00"/><stop offset="0.150" stop-color="#7ac427" stop-opacity="1.00"/><stop offset="0.200" stop-color="#6abf32" stop-opacity="1.00"/><stop offset="0.250" stop-color="#59b940" stop-opacity="1.00"/><stop offset="0.300" stop-color="#47b34e" stop-opacity="1.00"/><stop offset="0.350" stop-color="#34ac5d" stop-opacity="1.00"/><stop offset="0.400" stop-color="#2da173" stop-opacity="1.00"/><stop offset="0.450" stop-color="#269688" stop-opacity="1.00"/><stop offset="0.500" stop-color="#208c9c" stop-opacity="1.00"/><stop offset="0.550" stop-color="#1d80aa" stop-opacity="1.00"/><stop offset="0.600" stop-color="#1b75b7" stop-opacity="1.00"/><stop offset="0.650" stop-color="#196ac4" stop-opacity="1.00"/><stop offset="0.700" stop-color="#1760d0" stop-opacity="1.00"/><stop offset="0.750" stop-color="#1558d2" stop-opacity="1.00"/><stop offset="0.800" stop-color="#1452d0" stop-opacity="1.00"/><stop offset="0.850" stop-color="#124dcd" stop-opacity="1.00"/><stop offset="0.900" stop-color="#1147ca" stop-opacity="0.67"/><stop offset="0.950" stop-color="#1041c7" stop-opacity="0.33"/><stop offset="1.000" stop-color="#0e3ac4" stop-opacity="0.00"/></radialGradient><clipPath id="cl4_1"><rect x="311.40" y="373.00" width="29.60" height="29.10"/></clipPath><radialGradient id="sp4_2"><stop offset="0.000" stop-color="#e0c000" stop-opacity="1.00"/><stop offset="0.050" stop-color="#dfc100" stop-opacity="1.00"/><stop offset="0.100" stop-color="#dec200" stop-opacity="1.00"/><stop offset="0.150" stop-color="#dbc500" stop-opacity="1.00"/><stop offset="0.200" stop-color="#d8c800" stop-opacity="1.00"/><stop offset="0.250" stop-color="#d4cc00" stop-opacity="1.00"/><stop offset="0.300" stop-color="#cfd001" stop-opacity="1.00"/><stop offset="0.350" stop-color="#b9cd0b" stop-opacity="1.00"/><stop offset="0.400" stop-color="#a2ca15" stop-opacity="1.00"/><stop offset="0.450" stop-color="#8bc720" stop-opacity="1.00"/><stop offset="0.500" stop-color="#73c22b" stop-opacity="1.00"/><stop offset="0.550" stop-color="#5fbb3b" stop-opacity="1.00"/><stop offset="0.600" stop-color="#4ab44c" stop-opacity="1.00"/><stop offset="0.650" stop-color="#34ab5d" stop-opacity="1.00"/><stop offset="0.700" stop-color="#2b9d79" stop-opacity="1.00"/><stop offset="0.750" stop-color="#228f97" stop-opacity="1.00"/><stop offset="0.800" stop-color="#1d7bb0" stop-opacity="1.00"/><stop offset="0.850" stop-color="#1866c8" stop-opacity="1.00"/><stop offset="0.900" stop-color="#1455d1" stop-opacity="0.67"/><stop offset="0.950" stop-color="#1148cb" stop-opacity="0.33"/><stop offset="1.000" stop-color="#0e3ac4" stop-opacity="0.00"/></radialGradient><clipPath id="cl4_2"><rect x="342.60" y="373.00" width="29.60" height="29.10"/></clipPath><radialGradient id="sp4_3"><stop offset="0.000" stop-color="#e0c000" stop-opacity="1.00"/><stop offset="0.050" stop-color="#dfc100" stop-opacity="1.00"/><stop offset="0.100" stop-color="#dcc400" stop-opacity="1.00"/><stop offset="0.150" stop-color="#d8c800" stop-opacity="1.00"/><stop offset="0.200" stop-color="#d4cc00" stop-opacity="1.00"/><stop offset="0.250" stop-color="#cccf02" stop-opacity="1.00"/><stop offset="0.300" stop-color="#b5cc0c" stop-opacity="1.00"/><stop offset="0.350" stop-color="#a0c916" stop-opacity="1.00"/><stop offset="0.400" stop-color="#8bc71f" stop-opacity="1.00"/><stop offset="0.450" stop-color="#76c329" stop-opacity="1.00"/><stop offset="0.500" stop-color="#65bd37" stop-opacity="1.00"/><stop offset="0.550" stop-color="#52b745" stop-opacity="1.00"/><stop offset="0.600" stop-color="#3fb054" stop-opacity="1.00"/><stop offset="0.650" stop-color="#30a668" stop-opacity="1.00"/><stop offset="0.700" stop-color="#289983" stop-opacity="1.00"/><stop offset="0.750" stop-color="#208a9e" stop-opacity="1.00"/><stop offset="0.800" stop-color="#1c77b4" stop-opacity="1.00"/><stop offset="0.850" stop-color="#1763cc" stop-opacity="1.00"/><stop offset="0.900" stop-color="#1454d0" stop-opacity="0.67"/><stop offset="0.950" stop-color="#1147ca" stop-opacity="0.33"/><stop offset="1.000" stop-color="#0e3ac4" stop-opacity="0.00"/></radialGradient><clipPath id="cl4_3"><rect x="373.80" y="373.00" width="29.60" height="29.10"/></clipPath><radialGradient id="sp4_4"><stop offset="0.000" stop-color="#e4bc00" stop-opacity="1.00"/><stop offset="0.050" stop-color="#e2be00" stop-opacity="1.00"/><stop offset="0.100" stop-color="#dec200" stop-opacity="1.00"/><stop offset="0.150" stop-color="#d8c800" stop-opacity="1.00"/><stop offset="0.200" stop-color="#d3cd00" stop-opacity="1.00"/><stop offset="0.250" stop-color="#c4ce06" stop-opacity="1.00"/><stop offset="0.300" stop-color="#aecb10" stop-opacity="1.00"/><stop offset="0.350" stop-color="#9ac918" stop-opacity="1.00"/><stop offset="0.400" stop-color="#88c621" stop-opacity="1.00"/><stop offset="0.450" stop-color="#75c32a" stop-opacity="1.00"/><stop offset="0.500" stop-color="#64bd37" stop-opacity="1.00"/><stop offset="0.550" stop-color="#52b745" stop-opacity="1.00"/><stop offset="0.600" stop-color="#3eb054" stop-opacity="1.00"/><stop offset="0.650" stop-color="#30a668" stop-opacity="1.00"/><stop offset="0.700" stop-color="#289983" stop-opacity="1.00"/><stop offset="0.750" stop-color="#208a9e" stop-opacity="1.00"/><stop offset="0.800" stop-color="#1c77b4" stop-opacity="1.00"/><stop offset="0.850" stop-color="#1763cc" stop-opacity="1.00"/><stop offset="0.900" stop-color="#1454d0" stop-opacity="0.67"/><stop offset="0.950" stop-color="#1147ca" stop-opacity="0.33"/><stop offset="1.000" stop-color="#0e3ac4" stop-opacity="0.00"/></radialGradient><clipPath id="cl4_4"><rect x="405.00" y="373.00" width="29.60" height="29.10"/></clipPath><radialGradient id="sp4_5"><stop offset="0.000" stop-color="#e8b800" stop-opacity="1.00"/><stop offset="0.050" stop-color="#e6ba00" stop-opacity="1.00"/><stop offset="0.100" stop-color="#e0c000" stop-opacity="1.00"/><stop offset="0.150" stop-color="#d8c800" stop-opacity="1.00"/><stop offset="0.200" stop-color="#d2ce00" stop-opacity="1.00"/><stop offset="0.250" stop-color="#bece08" stop-opacity="1.00"/><stop offset="0.300" stop-color="#aacb11" stop-opacity="1.00"/><stop offset="0.350" stop-color="#98c819" stop-opacity="1.00"/><stop offset="0.400" stop-color="#87c621" stop-opacity="1.00"/><stop offset="0.450" stop-color="#75c32a" stop-opacity="1.00"/><stop offset="0.500" stop-color="#64bd37" stop-opacity="1.00"/><stop offset="0.550" stop-color="#52b745" stop-opacity="1.00"/><stop offset="0.600" stop-color="#3eb054" stop-opacity="1.00"/><stop offset="0.650" stop-color="#30a668" stop-opacity="1.00"/><stop offset="0.700" stop-color="#289983" stop-opacity="1.00"/><stop offset="0.750" stop-color="#208a9e" stop-opacity="1.00"/><stop offset="0.800" stop-color="#1c77b4" stop-opacity="1.00"/><stop offset="0.850" stop-color="#1763cc" stop-opacity="1.00"/><stop offset="0.900" stop-color="#1454d0" stop-opacity="0.67"/><stop offset="0.950" stop-color="#1147ca" stop-opacity="0.33"/><stop offset="1.000" stop-color="#0e3ac4" stop-opacity="0.00"/></radialGradient><clipPath id="cl4_5"><rect x="436.20" y="373.00" width="29.60" height="29.10"/></clipPath><radialGradient id="sp4_6"><stop offset="0.000" stop-color="#e8b800" stop-opacity="1.00"/><stop offset="0.050" stop-color="#e5bb00" stop-opacity="1.00"/><stop offset="0.100" stop-color="#dec200" stop-opacity="1.00"/><stop offset="0.150" stop-color="#d6ca00" stop-opacity="1.00"/><stop offset="0.200" stop-color="#c9cf03" stop-opacity="1.00"/><stop offset="0.250" stop-color="#b0cc0e" stop-opacity="1.00"/><stop offset="0.300" stop-color="#9ec917" stop-opacity="1.00"/><stop offset="0.350" stop-color="#8dc71e" stop-opacity="1.00"/><stop offset="0.400" stop-color="#7dc526" stop-opacity="1.00"/><stop offset="0.450" stop-color="#6dc030" stop-opacity="1.00"/><stop offset="0.500" stop-color="#5dba3d" stop-opacity="1.00"/><stop offset="0.550" stop-color="#4bb44a" stop-opacity="1.00"/><stop offset="0.600" stop-color="#38ae59" stop-opacity="1.00"/><stop offset="0.650" stop-color="#2ea36f" stop-opacity="1.00"/><stop offset="0.700" stop-color="#269688" stop-opacity="1.00"/><stop offset="0.750" stop-color="#1f87a2" stop-opacity="1.00"/><stop offset="0.800" stop-color="#1b75b7" stop-opacity="1.00"/><stop offset="0.850" stop-color="#1761ce" stop-opacity="1.00"/><stop offset="0.900" stop-color="#1453d0" stop-opacity="0.67"/><stop offset="0.950" stop-color="#1147ca" stop-opacity="0.33"/><stop offset="1.000" stop-color="#0e3ac4" stop-opacity="0.00"/></radialGradient><clipPath id="cl4_6"><rect x="467.40" y="373.00" width="29.60" height="29.10"/></clipPath></defs><rect width="550" height="425" fill="#fff"/><text x="0.00" y="0.00" font-size="14.20" font-weight="bold" text-anchor="start" fill="#111" transform="translate(7.9,17) scale(0.86,1)">a</text>
<rect x="42.50" y="7.70" width="221.60" height="178.20" fill="none" stroke="#000" stroke-width="1.45"/>
<line x1="39.50" y1="165.60" x2="42.50" y2="165.60" stroke="#000" stroke-width="1.3"/>
<text x="0" y="0" font-size="9.70" font-weight="bold" text-anchor="end" fill="#111" transform="translate(36.40,168.30) scale(0.900,1)">0</text>
<line x1="40.50" y1="145.85" x2="42.50" y2="145.85" stroke="#000" stroke-width="1.3"/>
<line x1="39.50" y1="126.10" x2="42.50" y2="126.10" stroke="#000" stroke-width="1.3"/>
<text x="0" y="0" font-size="9.70" font-weight="bold" text-anchor="end" fill="#111" transform="translate(36.40,128.80) scale(0.900,1)">10</text>
<line x1="40.50" y1="106.35" x2="42.50" y2="106.35" stroke="#000" stroke-width="1.3"/>
<line x1="39.50" y1="86.60" x2="42.50" y2="86.60" stroke="#000" stroke-width="1.3"/>
<text x="0" y="0" font-size="9.70" font-weight="bold" text-anchor="end" fill="#111" transform="translate(36.40,89.30) scale(0.900,1)">20</text>
<line x1="40.50" y1="66.85" x2="42.50" y2="66.85" stroke="#000" stroke-width="1.3"/>
<line x1="39.50" y1="47.10" x2="42.50" y2="47.10" stroke="#000" stroke-width="1.3"/>
<text x="0" y="0" font-size="9.70" font-weight="bold" text-anchor="end" fill="#111" transform="translate(36.40,49.80) scale(0.900,1)">30</text>
<line x1="40.50" y1="27.35" x2="42.50" y2="27.35" stroke="#000" stroke-width="1.3"/>
<line x1="42.50" y1="185.90" x2="42.50" y2="188.90" stroke="#000" stroke-width="1.3"/>
<text x="0" y="0" font-size="9.70" font-weight="bold" text-anchor="middle" fill="#111" transform="translate(42.70,198.60) scale(0.900,1)">0</text>
<line x1="61.00" y1="185.90" x2="61.00" y2="187.90" stroke="#000" stroke-width="1.3"/>
<line x1="79.50" y1="185.90" x2="79.50" y2="188.90" stroke="#000" stroke-width="1.3"/>
<text x="0" y="0" font-size="9.70" font-weight="bold" text-anchor="middle" fill="#111" transform="translate(79.70,198.60) scale(0.900,1)">10</text>
<line x1="98.00" y1="185.90" x2="98.00" y2="187.90" stroke="#000" stroke-width="1.3"/>
<line x1="116.50" y1="185.90" x2="116.50" y2="188.90" stroke="#000" stroke-width="1.3"/>
<text x="0" y="0" font-size="9.70" font-weight="bold" text-anchor="middle" fill="#111" transform="translate(116.70,198.60) scale(0.900,1)">20</text>
<line x1="135.00" y1="185.90" x2="135.00" y2="187.90" stroke="#000" stroke-width="1.3"/>
<line x1="153.50" y1="185.90" x2="153.50" y2="188.90" stroke="#000" stroke-width="1.3"/>
<text x="0" y="0" font-size="9.70" font-weight="bold" text-anchor="middle" fill="#111" transform="translate(153.70,198.60) scale(0.900,1)">30</text>
<line x1="172.00" y1="185.90" x2="172.00" y2="187.90" stroke="#000" stroke-width="1.3"/>
<line x1="190.50" y1="185.90" x2="190.50" y2="188.90" stroke="#000" stroke-width="1.3"/>
<text x="0" y="0" font-size="9.70" font-weight="bold" text-anchor="middle" fill="#111" transform="translate(190.70,198.60) scale(0.900,1)">40</text>
<line x1="209.00" y1="185.90" x2="209.00" y2="187.90" stroke="#000" stroke-width="1.3"/>
<line x1="227.50" y1="185.90" x2="227.50" y2="188.90" stroke="#000" stroke-width="1.3"/>
<text x="0" y="0" font-size="9.70" font-weight="bold" text-anchor="middle" fill="#111" transform="translate(227.70,198.60) scale(0.900,1)">50</text>
<line x1="246.00" y1="185.90" x2="246.00" y2="187.90" stroke="#000" stroke-width="1.3"/>
<text x="153.50" y="215.80" font-size="11.00" font-weight="bold" text-anchor="middle" fill="#111" >Temperature (°C)</text>
<text x="0.00" y="0.00" font-size="10.80" font-weight="bold" text-anchor="middle" fill="#111" transform="translate(17.8,96) rotate(-90)">Swelling Ratio (degree)</text>
<circle cx="61.30" cy="23.20" r="7.80" fill="none" stroke="#ec2424" stroke-width="1.3" stroke-dasharray="3,1.8"/>
<line x1="62.00" y1="31.00" x2="63.50" y2="59.00" stroke="#ec2424" stroke-width="1.30" stroke-dasharray="3,1.8"/>
<line x1="64.50" y1="35.50" x2="73.50" y2="59.00" stroke="#ec2424" stroke-width="1.30" stroke-dasharray="3,1.8"/>
<circle cx="135.00" cy="85.00" r="7.80" fill="none" stroke="#ec2424" stroke-width="1.3" stroke-dasharray="3,1.8"/>
<line x1="147.00" y1="63.60" x2="141.50" y2="79.50" stroke="#ec2424" stroke-width="1.30" stroke-dasharray="3,1.8"/>
<line x1="160.00" y1="63.60" x2="142.50" y2="79.50" stroke="#ec2424" stroke-width="1.30" stroke-dasharray="3,1.8"/>
<circle cx="168.40" cy="156.40" r="7.60" fill="none" stroke="#ec2424" stroke-width="1.3" stroke-dasharray="3,1.8"/>
<line x1="149.00" y1="154.40" x2="160.50" y2="157.20" stroke="#ec2424" stroke-width="1.30" stroke-dasharray="3,1.8"/>
<line x1="149.00" y1="163.00" x2="160.50" y2="157.20" stroke="#ec2424" stroke-width="1.30" stroke-dasharray="3,1.8"/>
<circle cx="227.00" cy="160.20" r="7.60" fill="none" stroke="#ec2424" stroke-width="1.3" stroke-dasharray="3,1.8"/>
<line x1="213.00" y1="137.40" x2="225.50" y2="152.50" stroke="#ec2424" stroke-width="1.30" stroke-dasharray="3,1.8"/>
<line x1="225.00" y1="137.40" x2="226.40" y2="152.50" stroke="#ec2424" stroke-width="1.30" stroke-dasharray="3,1.8"/>
<clipPath id="gi57"><rect x="57.00" y="59.00" width="43.40" height="42.80"/></clipPath>
<g clip-path="url(#gi57)">
<rect x="57.00" y="59.00" width="43.40" height="42.80" fill="#2d6252"/>
<line x1="49.77" y1="59.00" x2="49.77" y2="101.80" stroke="#b8bfba" stroke-width="0.85"/>
<line x1="57.00" y1="51.87" x2="100.40" y2="51.87" stroke="#b8bfba" stroke-width="0.85"/>
<line x1="57.00" y1="59.00" x2="57.00" y2="101.80" stroke="#b8bfba" stroke-width="0.85"/>
<line x1="57.00" y1="59.00" x2="100.40" y2="59.00" stroke="#b8bfba" stroke-width="0.85"/>
<line x1="64.23" y1="59.00" x2="64.23" y2="101.80" stroke="#b8bfba" stroke-width="0.85"/>
<line x1="57.00" y1="66.13" x2="100.40" y2="66.13" stroke="#b8bfba" stroke-width="0.85"/>
<line x1="71.47" y1="59.00" x2="71.47" y2="101.80" stroke="#b8bfba" stroke-width="0.85"/>
<line x1="57.00" y1="73.27" x2="100.40" y2="73.27" stroke="#b8bfba" stroke-width="0.85"/>
<line x1="78.70" y1="59.00" x2="78.70" y2="101.80" stroke="#b8bfba" stroke-width="0.85"/>
<line x1="57.00" y1="80.40" x2="100.40" y2="80.40" stroke="#b8bfba" stroke-width="0.85"/>
<line x1="85.93" y1="59.00" x2="85.93" y2="101.80" stroke="#b8bfba" stroke-width="0.85"/>
<line x1="57.00" y1="87.53" x2="100.40" y2="87.53" stroke="#b8bfba" stroke-width="0.85"/>
<line x1="93.17" y1="59.00" x2="93.17" y2="101.80" stroke="#b8bfba" stroke-width="0.85"/>
<line x1="57.00" y1="94.67" x2="100.40" y2="94.67" stroke="#b8bfba" stroke-width="0.85"/>
<line x1="100.40" y1="59.00" x2="100.40" y2="101.80" stroke="#b8bfba" stroke-width="0.85"/>
<line x1="57.00" y1="101.80" x2="100.40" y2="101.80" stroke="#b8bfba" stroke-width="0.85"/>
<line x1="107.63" y1="59.00" x2="107.63" y2="101.80" stroke="#b8bfba" stroke-width="0.85"/>
<line x1="57.00" y1="108.93" x2="100.40" y2="108.93" stroke="#b8bfba" stroke-width="0.85"/>
</g>
<rect x="65.00" y="67.00" width="26.80" height="26.60" fill="#0e0e0e"/>
<rect x="57.00" y="59.00" width="43.40" height="42.80" fill="none" stroke="#ec2222" stroke-width="1.5" stroke-dasharray="3.2,2"/>
<clipPath id="gi140"><rect x="140.10" y="20.70" width="43.50" height="42.90"/></clipPath>
<g clip-path="url(#gi140)">
<rect x="140.10" y="20.70" width="43.50" height="42.90" fill="#2d6252"/>
<line x1="120.50" y1="20.70" x2="120.50" y2="63.60" stroke="#b8bfba" stroke-width="0.85"/>
<line x1="140.10" y1="-3.40" x2="183.60" y2="-3.40" stroke="#b8bfba" stroke-width="0.85"/>
<line x1="135.00" y1="20.70" x2="135.00" y2="63.60" stroke="#b8bfba" stroke-width="0.85"/>
<line x1="140.10" y1="10.90" x2="183.60" y2="10.90" stroke="#b8bfba" stroke-width="0.85"/>
<line x1="149.50" y1="20.70" x2="149.50" y2="63.60" stroke="#b8bfba" stroke-width="0.85"/>
<line x1="140.10" y1="25.20" x2="183.60" y2="25.20" stroke="#b8bfba" stroke-width="0.85"/>
<line x1="164.00" y1="20.70" x2="164.00" y2="63.60" stroke="#b8bfba" stroke-width="0.85"/>
<line x1="140.10" y1="39.50" x2="183.60" y2="39.50" stroke="#b8bfba" stroke-width="0.85"/>
<line x1="178.50" y1="20.70" x2="178.50" y2="63.60" stroke="#b8bfba" stroke-width="0.85"/>
<line x1="140.10" y1="53.80" x2="183.60" y2="53.80" stroke="#b8bfba" stroke-width="0.85"/>
<line x1="193.00" y1="20.70" x2="193.00" y2="63.60" stroke="#b8bfba" stroke-width="0.85"/>
<line x1="140.10" y1="68.10" x2="183.60" y2="68.10" stroke="#b8bfba" stroke-width="0.85"/>
<line x1="126.35" y1="3.75" x2="129.15" y2="3.75" stroke="#c4ccc6" stroke-width="0.6"/>
<line x1="127.75" y1="2.35" x2="127.75" y2="5.15" stroke="#c4ccc6" stroke-width="0.6"/>
<line x1="127.75" y1="-4.60" x2="127.75" y2="-2.20" stroke="#a8b2ac" stroke-width="0.5"/>
<line x1="119.30" y1="3.75" x2="121.70" y2="3.75" stroke="#a8b2ac" stroke-width="0.5"/>
<line x1="126.35" y1="18.05" x2="129.15" y2="18.05" stroke="#c4ccc6" stroke-width="0.6"/>
<line x1="127.75" y1="16.65" x2="127.75" y2="19.45" stroke="#c4ccc6" stroke-width="0.6"/>
<line x1="127.75" y1="9.70" x2="127.75" y2="12.10" stroke="#a8b2ac" stroke-width="0.5"/>
<line x1="119.30" y1="18.05" x2="121.70" y2="18.05" stroke="#a8b2ac" stroke-width="0.5"/>
<line x1="126.35" y1="32.35" x2="129.15" y2="32.35" stroke="#c4ccc6" stroke-width="0.6"/>
<line x1="127.75" y1="30.95" x2="127.75" y2="33.75" stroke="#c4ccc6" stroke-width="0.6"/>
<line x1="127.75" y1="24.00" x2="127.75" y2="26.40" stroke="#a8b2ac" stroke-width="0.5"/>
<line x1="119.30" y1="32.35" x2="121.70" y2="32.35" stroke="#a8b2ac" stroke-width="0.5"/>
<line x1="126.35" y1="46.65" x2="129.15" y2="46.65" stroke="#c4ccc6" stroke-width="0.6"/>
<line x1="127.75" y1="45.25" x2="127.75" y2="48.05" stroke="#c4ccc6" stroke-width="0.6"/>
<line x1="127.75" y1="38.30" x2="127.75" y2="40.70" stroke="#a8b2ac" stroke-width="0.5"/>
<line x1="119.30" y1="46.65" x2="121.70" y2="46.65" stroke="#a8b2ac" stroke-width="0.5"/>
<line x1="126.35" y1="60.95" x2="129.15" y2="60.95" stroke="#c4ccc6" stroke-width="0.6"/>
<line x1="127.75" y1="59.55" x2="127.75" y2="62.35" stroke="#c4ccc6" stroke-width="0.6"/>
<line x1="127.75" y1="52.60" x2="127.75" y2="55.00" stroke="#a8b2ac" stroke-width="0.5"/>
<line x1="119.30" y1="60.95" x2="121.70" y2="60.95" stroke="#a8b2ac" stroke-width="0.5"/>
<line x1="140.85" y1="3.75" x2="143.65" y2="3.75" stroke="#c4ccc6" stroke-width="0.6"/>
<line x1="142.25" y1="2.35" x2="142.25" y2="5.15" stroke="#c4ccc6" stroke-width="0.6"/>
<line x1="142.25" y1="-4.60" x2="142.25" y2="-2.20" stroke="#a8b2ac" stroke-width="0.5"/>
<line x1="133.80" y1="3.75" x2="136.20" y2="3.75" stroke="#a8b2ac" stroke-width="0.5"/>
<line x1="140.85" y1="18.05" x2="143.65" y2="18.05" stroke="#c4ccc6" stroke-width="0.6"/>
<line x1="142.25" y1="16.65" x2="142.25" y2="19.45" stroke="#c4ccc6" stroke-width="0.6"/>
<line x1="142.25" y1="9.70" x2="142.25" y2="12.10" stroke="#a8b2ac" stroke-width="0.5"/>
<line x1="133.80" y1="18.05" x2="136.20" y2="18.05" stroke="#a8b2ac" stroke-width="0.5"/>
<line x1="140.85" y1="32.35" x2="143.65" y2="32.35" stroke="#c4ccc6" stroke-width="0.6"/>
<line x1="142.25" y1="30.95" x2="142.25" y2="33.75" stroke="#c4ccc6" stroke-width="0.6"/>
<line x1="142.25" y1="24.00" x2="142.25" y2="26.40" stroke="#a8b2ac" stroke-width="0.5"/>
<line x1="133.80" y1="32.35" x2="136.20" y2="32.35" stroke="#a8b2ac" stroke-width="0.5"/>
<line x1="140.85" y1="46.65" x2="143.65" y2="46.65" stroke="#c4ccc6" stroke-width="0.6"/>
<line x1="142.25" y1="45.25" x2="142.25" y2="48.05" stroke="#c4ccc6" stroke-width="0.6"/>
<line x1="142.25" y1="38.30" x2="142.25" y2="40.70" stroke="#a8b2ac" stroke-width="0.5"/>
<line x1="133.80" y1="46.65" x2="136.20" y2="46.65" stroke="#a8b2ac" stroke-width="0.5"/>
<line x1="140.85" y1="60.95" x2="143.65" y2="60.95" stroke="#c4ccc6" stroke-width="0.6"/>
<line x1="142.25" y1="59.55" x2="142.25" y2="62.35" stroke="#c4ccc6" stroke-width="0.6"/>
<line x1="142.25" y1="52.60" x2="142.25" y2="55.00" stroke="#a8b2ac" stroke-width="0.5"/>
<line x1="133.80" y1="60.95" x2="136.20" y2="60.95" stroke="#a8b2ac" stroke-width="0.5"/>
<line x1="155.35" y1="3.75" x2="158.15" y2="3.75" stroke="#c4ccc6" stroke-width="0.6"/>
<line x1="156.75" y1="2.35" x2="156.75" y2="5.15" stroke="#c4ccc6" stroke-width="0.6"/>
<line x1="156.75" y1="-4.60" x2="156.75" y2="-2.20" stroke="#a8b2ac" stroke-width="0.5"/>
<line x1="148.30" y1="3.75" x2="150.70" y2="3.75" stroke="#a8b2ac" stroke-width="0.5"/>
<line x1="155.35" y1="18.05" x2="158.15" y2="18.05" stroke="#c4ccc6" stroke-width="0.6"/>
<line x1="156.75" y1="16.65" x2="156.75" y2="19.45" stroke="#c4ccc6" stroke-width="0.6"/>
<line x1="156.75" y1="9.70" x2="156.75" y2="12.10" stroke="#a8b2ac" stroke-width="0.5"/>
<line x1="148.30" y1="18.05" x2="150.70" y2="18.05" stroke="#a8b2ac" stroke-width="0.5"/>
<line x1="155.35" y1="32.35" x2="158.15" y2="32.35" stroke="#c4ccc6" stroke-width="0.6"/>
<line x1="156.75" y1="30.95" x2="156.75" y2="33.75" stroke="#c4ccc6" stroke-width="0.6"/>
<line x1="156.75" y1="24.00" x2="156.75" y2="26.40" stroke="#a8b2ac" stroke-width="0.5"/>
<line x1="148.30" y1="32.35" x2="150.70" y2="32.35" stroke="#a8b2ac" stroke-width="0.5"/>
<line x1="155.35" y1="46.65" x2="158.15" y2="46.65" stroke="#c4ccc6" stroke-width="0.6"/>
<line x1="156.75" y1="45.25" x2="156.75" y2="48.05" stroke="#c4ccc6" stroke-width="0.6"/>
<line x1="156.75" y1="38.30" x2="156.75" y2="40.70" stroke="#a8b2ac" stroke-width="0.5"/>
<line x1="148.30" y1="46.65" x2="150.70" y2="46.65" stroke="#a8b2ac" stroke-width="0.5"/>
<line x1="155.35" y1="60.95" x2="158.15" y2="60.95" stroke="#c4ccc6" stroke-width="0.6"/>
<line x1="156.75" y1="59.55" x2="156.75" y2="62.35" stroke="#c4ccc6" stroke-width="0.6"/>
<line x1="156.75" y1="52.60" x2="156.75" y2="55.00" stroke="#a8b2ac" stroke-width="0.5"/>
<line x1="148.30" y1="60.95" x2="150.70" y2="60.95" stroke="#a8b2ac" stroke-width="0.5"/>
<line x1="169.85" y1="3.75" x2="172.65" y2="3.75" stroke="#c4ccc6" stroke-width="0.6"/>
<line x1="171.25" y1="2.35" x2="171.25" y2="5.15" stroke="#c4ccc6" stroke-width="0.6"/>
<line x1="171.25" y1="-4.60" x2="171.25" y2="-2.20" stroke="#a8b2ac" stroke-width="0.5"/>
<line x1="162.80" y1="3.75" x2="165.20" y2="3.75" stroke="#a8b2ac" stroke-width="0.5"/>
<line x1="169.85" y1="18.05" x2="172.65" y2="18.05" stroke="#c4ccc6" stroke-width="0.6"/>
<line x1="171.25" y1="16.65" x2="171.25" y2="19.45" stroke="#c4ccc6" stroke-width="0.6"/>
<line x1="171.25" y1="9.70" x2="171.25" y2="12.10" stroke="#a8b2ac" stroke-width="0.5"/>
<line x1="162.80" y1="18.05" x2="165.20" y2="18.05" stroke="#a8b2ac" stroke-width="0.5"/>
<line x1="169.85" y1="32.35" x2="172.65" y2="32.35" stroke="#c4ccc6" stroke-width="0.6"/>
<line x1="171.25" y1="30.95" x2="171.25" y2="33.75" stroke="#c4ccc6" stroke-width="0.6"/>
<line x1="171.25" y1="24.00" x2="171.25" y2="26.40" stroke="#a8b2ac" stroke-width="0.5"/>
<line x1="162.80" y1="32.35" x2="165.20" y2="32.35" stroke="#a8b2ac" stroke-width="0.5"/>
<line x1="169.85" y1="46.65" x2="172.65" y2="46.65" stroke="#c4ccc6" stroke-width="0.6"/>
<line x1="171.25" y1="45.25" x2="171.25" y2="48.05" stroke="#c4ccc6" stroke-width="0.6"/>
<line x1="171.25" y1="38.30" x2="171.25" y2="40.70" stroke="#a8b2ac" stroke-width="0.5"/>
<line x1="162.80" y1="46.65" x2="165.20" y2="46.65" stroke="#a8b2ac" stroke-width="0.5"/>
<line x1="169.85" y1="60.95" x2="172.65" y2="60.95" stroke="#c4ccc6" stroke-width="0.6"/>
<line x1="171.25" y1="59.55" x2="171.25" y2="62.35" stroke="#c4ccc6" stroke-width="0.6"/>
<line x1="171.25" y1="52.60" x2="171.25" y2="55.00" stroke="#a8b2ac" stroke-width="0.5"/>
<line x1="162.80" y1="60.95" x2="165.20" y2="60.95" stroke="#a8b2ac" stroke-width="0.5"/>
<line x1="184.35" y1="3.75" x2="187.15" y2="3.75" stroke="#c4ccc6" stroke-width="0.6"/>
<line x1="185.75" y1="2.35" x2="185.75" y2="5.15" stroke="#c4ccc6" stroke-width="0.6"/>
<line x1="185.75" y1="-4.60" x2="185.75" y2="-2.20" stroke="#a8b2ac" stroke-width="0.5"/>
<line x1="177.30" y1="3.75" x2="179.70" y2="3.75" stroke="#a8b2ac" stroke-width="0.5"/>
<line x1="184.35" y1="18.05" x2="187.15" y2="18.05" stroke="#c4ccc6" stroke-width="0.6"/>
<line x1="185.75" y1="16.65" x2="185.75" y2="19.45" stroke="#c4ccc6" stroke-width="0.6"/>
<line x1="185.75" y1="9.70" x2="185.75" y2="12.10" stroke="#a8b2ac" stroke-width="0.5"/>
<line x1="177.30" y1="18.05" x2="179.70" y2="18.05" stroke="#a8b2ac" stroke-width="0.5"/>
<line x1="184.35" y1="32.35" x2="187.15" y2="32.35" stroke="#c4ccc6" stroke-width="0.6"/>
<line x1="185.75" y1="30.95" x2="185.75" y2="33.75" stroke="#c4ccc6" stroke-width="0.6"/>
<line x1="185.75" y1="24.00" x2="185.75" y2="26.40" stroke="#a8b2ac" stroke-width="0.5"/>
<line x1="177.30" y1="32.35" x2="179.70" y2="32.35" stroke="#a8b2ac" stroke-width="0.5"/>
<line x1="184.35" y1="46.65" x2="187.15" y2="46.65" stroke="#c4ccc6" stroke-width="0.6"/>
<line x1="185.75" y1="45.25" x2="185.75" y2="48.05" stroke="#c4ccc6" stroke-width="0.6"/>
<line x1="185.75" y1="38.30" x2="185.75" y2="40.70" stroke="#a8b2ac" stroke-width="0.5"/>
<line x1="177.30" y1="46.65" x2="179.70" y2="46.65" stroke="#a8b2ac" stroke-width="0.5"/>
<line x1="184.35" y1="60.95" x2="187.15" y2="60.95" stroke="#c4ccc6" stroke-width="0.6"/>
<line x1="185.75" y1="59.55" x2="185.75" y2="62.35" stroke="#c4ccc6" stroke-width="0.6"/>
<line x1="185.75" y1="52.60" x2="185.75" y2="55.00" stroke="#a8b2ac" stroke-width="0.5"/>
<line x1="177.30" y1="60.95" x2="179.70" y2="60.95" stroke="#a8b2ac" stroke-width="0.5"/>
</g>
<rect x="150.00" y="29.50" width="24.20" height="23.90" fill="#0e0e0e"/>
<rect x="140.10" y="20.70" width="43.50" height="42.90" fill="none" stroke="#ec2222" stroke-width="1.5" stroke-dasharray="3.2,2"/>
<clipPath id="gi105"><rect x="105.00" y="129.00" width="43.40" height="42.00"/></clipPath>
<g clip-path="url(#gi105)">
<rect x="105.00" y="129.00" width="43.40" height="42.00" fill="#2d6252"/>
<line x1="90.53" y1="129.00" x2="90.53" y2="171.00" stroke="#b8bfba" stroke-width="0.85"/>
<line x1="105.00" y1="115.00" x2="148.40" y2="115.00" stroke="#b8bfba" stroke-width="0.85"/>
<line x1="105.00" y1="129.00" x2="105.00" y2="171.00" stroke="#b8bfba" stroke-width="0.85"/>
<line x1="105.00" y1="129.00" x2="148.40" y2="129.00" stroke="#b8bfba" stroke-width="0.85"/>
<line x1="119.47" y1="129.00" x2="119.47" y2="171.00" stroke="#b8bfba" stroke-width="0.85"/>
<line x1="105.00" y1="143.00" x2="148.40" y2="143.00" stroke="#b8bfba" stroke-width="0.85"/>
<line x1="133.93" y1="129.00" x2="133.93" y2="171.00" stroke="#b8bfba" stroke-width="0.85"/>
<line x1="105.00" y1="157.00" x2="148.40" y2="157.00" stroke="#b8bfba" stroke-width="0.85"/>
<line x1="148.40" y1="129.00" x2="148.40" y2="171.00" stroke="#b8bfba" stroke-width="0.85"/>
<line x1="105.00" y1="171.00" x2="148.40" y2="171.00" stroke="#b8bfba" stroke-width="0.85"/>
<line x1="162.87" y1="129.00" x2="162.87" y2="171.00" stroke="#b8bfba" stroke-width="0.85"/>
<line x1="105.00" y1="185.00" x2="148.40" y2="185.00" stroke="#b8bfba" stroke-width="0.85"/>
<line x1="96.37" y1="122.00" x2="99.17" y2="122.00" stroke="#c4ccc6" stroke-width="0.6"/>
<line x1="97.77" y1="120.60" x2="97.77" y2="123.40" stroke="#c4ccc6" stroke-width="0.6"/>
<line x1="97.77" y1="113.80" x2="97.77" y2="116.20" stroke="#a8b2ac" stroke-width="0.5"/>
<line x1="89.33" y1="122.00" x2="91.73" y2="122.00" stroke="#a8b2ac" stroke-width="0.5"/>
<line x1="96.37" y1="136.00" x2="99.17" y2="136.00" stroke="#c4ccc6" stroke-width="0.6"/>
<line x1="97.77" y1="134.60" x2="97.77" y2="137.40" stroke="#c4ccc6" stroke-width="0.6"/>
<line x1="97.77" y1="127.80" x2="97.77" y2="130.20" stroke="#a8b2ac" stroke-width="0.5"/>
<line x1="89.33" y1="136.00" x2="91.73" y2="136.00" stroke="#a8b2ac" stroke-width="0.5"/>
<line x1="96.37" y1="150.00" x2="99.17" y2="150.00" stroke="#c4ccc6" stroke-width="0.6"/>
<line x1="97.77" y1="148.60" x2="97.77" y2="151.40" stroke="#c4ccc6" stroke-width="0.6"/>
<line x1="97.77" y1="141.80" x2="97.77" y2="144.20" stroke="#a8b2ac" stroke-width="0.5"/>
<line x1="89.33" y1="150.00" x2="91.73" y2="150.00" stroke="#a8b2ac" stroke-width="0.5"/>
<line x1="96.37" y1="164.00" x2="99.17" y2="164.00" stroke="#c4ccc6" stroke-width="0.6"/>
<line x1="97.77" y1="162.60" x2="97.77" y2="165.40" stroke="#c4ccc6" stroke-width="0.6"/>
<line x1="97.77" y1="155.80" x2="97.77" y2="158.20" stroke="#a8b2ac" stroke-width="0.5"/>
<line x1="89.33" y1="164.00" x2="91.73" y2="164.00" stroke="#a8b2ac" stroke-width="0.5"/>
<line x1="96.37" y1="178.00" x2="99.17" y2="178.00" stroke="#c4ccc6" stroke-width="0.6"/>
<line x1="97.77" y1="176.60" x2="97.77" y2="179.40" stroke="#c4ccc6" stroke-width="0.6"/>
<line x1="97.77" y1="169.80" x2="97.77" y2="172.20" stroke="#a8b2ac" stroke-width="0.5"/>
<line x1="89.33" y1="178.00" x2="91.73" y2="178.00" stroke="#a8b2ac" stroke-width="0.5"/>
<line x1="110.83" y1="122.00" x2="113.63" y2="122.00" stroke="#c4ccc6" stroke-width="0.6"/>
<line x1="112.23" y1="120.60" x2="112.23" y2="123.40" stroke="#c4ccc6" stroke-width="0.6"/>
<line x1="112.23" y1="113.80" x2="112.23" y2="116.20" stroke="#a8b2ac" stroke-width="0.5"/>
<line x1="103.80" y1="122.00" x2="106.20" y2="122.00" stroke="#a8b2ac" stroke-width="0.5"/>
<line x1="110.83" y1="136.00" x2="113.63" y2="136.00" stroke="#c4ccc6" stroke-width="0.6"/>
<line x1="112.23" y1="134.60" x2="112.23" y2="137.40" stroke="#c4ccc6" stroke-width="0.6"/>
<line x1="112.23" y1="127.80" x2="112.23" y2="130.20" stroke="#a8b2ac" stroke-width="0.5"/>
<line x1="103.80" y1="136.00" x2="106.20" y2="136.00" stroke="#a8b2ac" stroke-width="0.5"/>
<line x1="110.83" y1="150.00" x2="113.63" y2="150.00" stroke="#c4ccc6" stroke-width="0.6"/>
<line x1="112.23" y1="148.60" x2="112.23" y2="151.40" stroke="#c4ccc6" stroke-width="0.6"/>
<line x1="112.23" y1="141.80" x2="112.23" y2="144.20" stroke="#a8b2ac" stroke-width="0.5"/>
<line x1="103.80" y1="150.00" x2="106.20" y2="150.00" stroke="#a8b2ac" stroke-width="0.5"/>
<line x1="110.83" y1="164.00" x2="113.63" y2="164.00" stroke="#c4ccc6" stroke-width="0.6"/>
<line x1="112.23" y1="162.60" x2="112.23" y2="165.40" stroke="#c4ccc6" stroke-width="0.6"/>
<line x1="112.23" y1="155.80" x2="112.23" y2="158.20" stroke="#a8b2ac" stroke-width="0.5"/>
<line x1="103.80" y1="164.00" x2="106.20" y2="164.00" stroke="#a8b2ac" stroke-width="0.5"/>
<line x1="110.83" y1="178.00" x2="113.63" y2="178.00" stroke="#c4ccc6" stroke-width="0.6"/>
<line x1="112.23" y1="176.60" x2="112.23" y2="179.40" stroke="#c4ccc6" stroke-width="0.6"/>
<line x1="112.23" y1="169.80" x2="112.23" y2="172.20" stroke="#a8b2ac" stroke-width="0.5"/>
<line x1="103.80" y1="178.00" x2="106.20" y2="178.00" stroke="#a8b2ac" stroke-width="0.5"/>
<line x1="125.30" y1="122.00" x2="128.10" y2="122.00" stroke="#c4ccc6" stroke-width="0.6"/>
<line x1="126.70" y1="120.60" x2="126.70" y2="123.40" stroke="#c4ccc6" stroke-width="0.6"/>
<line x1="126.70" y1="113.80" x2="126.70" y2="116.20" stroke="#a8b2ac" stroke-width="0.5"/>
<line x1="118.27" y1="122.00" x2="120.67" y2="122.00" stroke="#a8b2ac" stroke-width="0.5"/>
<line x1="125.30" y1="136.00" x2="128.10" y2="136.00" stroke="#c4ccc6" stroke-width="0.6"/>
<line x1="126.70" y1="134.60" x2="126.70" y2="137.40" stroke="#c4ccc6" stroke-width="0.6"/>
<line x1="126.70" y1="127.80" x2="126.70" y2="130.20" stroke="#a8b2ac" stroke-width="0.5"/>
<line x1="118.27" y1="136.00" x2="120.67" y2="136.00" stroke="#a8b2ac" stroke-width="0.5"/>
<line x1="125.30" y1="150.00" x2="128.10" y2="150.00" stroke="#c4ccc6" stroke-width="0.6"/>
<line x1="126.70" y1="148.60" x2="126.70" y2="151.40" stroke="#c4ccc6" stroke-width="0.6"/>
<line x1="126.70" y1="141.80" x2="126.70" y2="144.20" stroke="#a8b2ac" stroke-width="0.5"/>
<line x1="118.27" y1="150.00" x2="120.67" y2="150.00" stroke="#a8b2ac" stroke-width="0.5"/>
<line x1="125.30" y1="164.00" x2="128.10" y2="164.00" stroke="#c4ccc6" stroke-width="0.6"/>
<line x1="126.70" y1="162.60" x2="126.70" y2="165.40" stroke="#c4ccc6" stroke-width="0.6"/>
<line x1="126.70" y1="155.80" x2="126.70" y2="158.20" stroke="#a8b2ac" stroke-width="0.5"/>
<line x1="118.27" y1="164.00" x2="120.67" y2="164.00" stroke="#a8b2ac" stroke-width="0.5"/>
<line x1="125.30" y1="178.00" x2="128.10" y2="178.00" stroke="#c4ccc6" stroke-width="0.6"/>
<line x1="126.70" y1="176.60" x2="126.70" y2="179.40" stroke="#c4ccc6" stroke-width="0.6"/>
<line x1="126.70" y1="169.80" x2="126.70" y2="172.20" stroke="#a8b2ac" stroke-width="0.5"/>
<line x1="118.27" y1="178.00" x2="120.67" y2="178.00" stroke="#a8b2ac" stroke-width="0.5"/>
<line x1="139.77" y1="122.00" x2="142.57" y2="122.00" stroke="#c4ccc6" stroke-width="0.6"/>
<line x1="141.17" y1="120.60" x2="141.17" y2="123.40" stroke="#c4ccc6" stroke-width="0.6"/>
<line x1="141.17" y1="113.80" x2="141.17" y2="116.20" stroke="#a8b2ac" stroke-width="0.5"/>
<line x1="132.73" y1="122.00" x2="135.13" y2="122.00" stroke="#a8b2ac" stroke-width="0.5"/>
<line x1="139.77" y1="136.00" x2="142.57" y2="136.00" stroke="#c4ccc6" stroke-width="0.6"/>
<line x1="141.17" y1="134.60" x2="141.17" y2="137.40" stroke="#c4ccc6" stroke-width="0.6"/>
<line x1="141.17" y1="127.80" x2="141.17" y2="130.20" stroke="#a8b2ac" stroke-width="0.5"/>
<line x1="132.73" y1="136.00" x2="135.13" y2="136.00" stroke="#a8b2ac" stroke-width="0.5"/>
<line x1="139.77" y1="150.00" x2="142.57" y2="150.00" stroke="#c4ccc6" stroke-width="0.6"/>
<line x1="141.17" y1="148.60" x2="141.17" y2="151.40" stroke="#c4ccc6" stroke-width="0.6"/>
<line x1="141.17" y1="141.80" x2="141.17" y2="144.20" stroke="#a8b2ac" stroke-width="0.5"/>
<line x1="132.73" y1="150.00" x2="135.13" y2="150.00" stroke="#a8b2ac" stroke-width="0.5"/>
<line x1="139.77" y1="164.00" x2="142.57" y2="164.00" stroke="#c4ccc6" stroke-width="0.6"/>
<line x1="141.17" y1="162.60" x2="141.17" y2="165.40" stroke="#c4ccc6" stroke-width="0.6"/>
<line x1="141.17" y1="155.80" x2="141.17" y2="158.20" stroke="#a8b2ac" stroke-width="0.5"/>
<line x1="132.73" y1="164.00" x2="135.13" y2="164.00" stroke="#a8b2ac" stroke-width="0.5"/>
<line x1="139.77" y1="178.00" x2="142.57" y2="178.00" stroke="#c4ccc6" stroke-width="0.6"/>
<line x1="141.17" y1="176.60" x2="141.17" y2="179.40" stroke="#c4ccc6" stroke-width="0.6"/>
<line x1="141.17" y1="169.80" x2="141.17" y2="172.20" stroke="#a8b2ac" stroke-width="0.5"/>
<line x1="132.73" y1="178.00" x2="135.13" y2="178.00" stroke="#a8b2ac" stroke-width="0.5"/>
<line x1="154.23" y1="122.00" x2="157.03" y2="122.00" stroke="#c4ccc6" stroke-width="0.6"/>
<line x1="155.63" y1="120.60" x2="155.63" y2="123.40" stroke="#c4ccc6" stroke-width="0.6"/>
<line x1="155.63" y1="113.80" x2="155.63" y2="116.20" stroke="#a8b2ac" stroke-width="0.5"/>
<line x1="147.20" y1="122.00" x2="149.60" y2="122.00" stroke="#a8b2ac" stroke-width="0.5"/>
<line x1="154.23" y1="136.00" x2="157.03" y2="136.00" stroke="#c4ccc6" stroke-width="0.6"/>
<line x1="155.63" y1="134.60" x2="155.63" y2="137.40" stroke="#c4ccc6" stroke-width="0.6"/>
<line x1="155.63" y1="127.80" x2="155.63" y2="130.20" stroke="#a8b2ac" stroke-width="0.5"/>
<line x1="147.20" y1="136.00" x2="149.60" y2="136.00" stroke="#a8b2ac" stroke-width="0.5"/>
<line x1="154.23" y1="150.00" x2="157.03" y2="150.00" stroke="#c4ccc6" stroke-width="0.6"/>
<line x1="155.63" y1="148.60" x2="155.63" y2="151.40" stroke="#c4ccc6" stroke-width="0.6"/>
<line x1="155.63" y1="141.80" x2="155.63" y2="144.20" stroke="#a8b2ac" stroke-width="0.5"/>
<line x1="147.20" y1="150.00" x2="149.60" y2="150.00" stroke="#a8b2ac" stroke-width="0.5"/>
<line x1="154.23" y1="164.00" x2="157.03" y2="164.00" stroke="#c4ccc6" stroke-width="0.6"/>
<line x1="155.63" y1="162.60" x2="155.63" y2="165.40" stroke="#c4ccc6" stroke-width="0.6"/>
<line x1="155.63" y1="155.80" x2="155.63" y2="158.20" stroke="#a8b2ac" stroke-width="0.5"/>
<line x1="147.20" y1="164.00" x2="149.60" y2="164.00" stroke="#a8b2ac" stroke-width="0.5"/>
<line x1="154.23" y1="178.00" x2="157.03" y2="178.00" stroke="#c4ccc6" stroke-width="0.6"/>
<line x1="155.63" y1="176.60" x2="155.63" y2="179.40" stroke="#c4ccc6" stroke-width="0.6"/>
<line x1="155.63" y1="169.80" x2="155.63" y2="172.20" stroke="#a8b2ac" stroke-width="0.5"/>
<line x1="147.20" y1="178.00" x2="149.60" y2="178.00" stroke="#a8b2ac" stroke-width="0.5"/>
</g>
<rect x="120.00" y="144.00" width="12.40" height="12.00" fill="#0e0e0e"/>
<rect x="105.00" y="129.00" width="43.40" height="42.00" fill="none" stroke="#ec2222" stroke-width="1.5" stroke-dasharray="3.2,2"/>
<clipPath id="gi207"><rect x="207.00" y="94.40" width="43.40" height="43.00"/></clipPath>
<g clip-path="url(#gi207)">
<rect x="207.00" y="94.40" width="43.40" height="43.00" fill="#2d6252"/>
<line x1="192.53" y1="94.40" x2="192.53" y2="137.40" stroke="#b8bfba" stroke-width="0.85"/>
<line x1="207.00" y1="80.07" x2="250.40" y2="80.07" stroke="#b8bfba" stroke-width="0.85"/>
<line x1="207.00" y1="94.40" x2="207.00" y2="137.40" stroke="#b8bfba" stroke-width="0.85"/>
<line x1="207.00" y1="94.40" x2="250.40" y2="94.40" stroke="#b8bfba" stroke-width="0.85"/>
<line x1="221.47" y1="94.40" x2="221.47" y2="137.40" stroke="#b8bfba" stroke-width="0.85"/>
<line x1="207.00" y1="108.73" x2="250.40" y2="108.73" stroke="#b8bfba" stroke-width="0.85"/>
<line x1="235.93" y1="94.40" x2="235.93" y2="137.40" stroke="#b8bfba" stroke-width="0.85"/>
<line x1="207.00" y1="123.07" x2="250.40" y2="123.07" stroke="#b8bfba" stroke-width="0.85"/>
<line x1="250.40" y1="94.40" x2="250.40" y2="137.40" stroke="#b8bfba" stroke-width="0.85"/>
<line x1="207.00" y1="137.40" x2="250.40" y2="137.40" stroke="#b8bfba" stroke-width="0.85"/>
<line x1="264.87" y1="94.40" x2="264.87" y2="137.40" stroke="#b8bfba" stroke-width="0.85"/>
<line x1="207.00" y1="151.73" x2="250.40" y2="151.73" stroke="#b8bfba" stroke-width="0.85"/>
<line x1="198.37" y1="87.23" x2="201.17" y2="87.23" stroke="#c4ccc6" stroke-width="0.6"/>
<line x1="199.77" y1="85.83" x2="199.77" y2="88.63" stroke="#c4ccc6" stroke-width="0.6"/>
<line x1="199.77" y1="78.87" x2="199.77" y2="81.27" stroke="#a8b2ac" stroke-width="0.5"/>
<line x1="191.33" y1="87.23" x2="193.73" y2="87.23" stroke="#a8b2ac" stroke-width="0.5"/>
<line x1="198.37" y1="101.57" x2="201.17" y2="101.57" stroke="#c4ccc6" stroke-width="0.6"/>
<line x1="199.77" y1="100.17" x2="199.77" y2="102.97" stroke="#c4ccc6" stroke-width="0.6"/>
<line x1="199.77" y1="93.20" x2="199.77" y2="95.60" stroke="#a8b2ac" stroke-width="0.5"/>
<line x1="191.33" y1="101.57" x2="193.73" y2="101.57" stroke="#a8b2ac" stroke-width="0.5"/>
<line x1="198.37" y1="115.90" x2="201.17" y2="115.90" stroke="#c4ccc6" stroke-width="0.6"/>
<line x1="199.77" y1="114.50" x2="199.77" y2="117.30" stroke="#c4ccc6" stroke-width="0.6"/>
<line x1="199.77" y1="107.53" x2="199.77" y2="109.93" stroke="#a8b2ac" stroke-width="0.5"/>
<line x1="191.33" y1="115.90" x2="193.73" y2="115.90" stroke="#a8b2ac" stroke-width="0.5"/>
<line x1="198.37" y1="130.23" x2="201.17" y2="130.23" stroke="#c4ccc6" stroke-width="0.6"/>
<line x1="199.77" y1="128.83" x2="199.77" y2="131.63" stroke="#c4ccc6" stroke-width="0.6"/>
<line x1="199.77" y1="121.87" x2="199.77" y2="124.27" stroke="#a8b2ac" stroke-width="0.5"/>
<line x1="191.33" y1="130.23" x2="193.73" y2="130.23" stroke="#a8b2ac" stroke-width="0.5"/>
<line x1="198.37" y1="144.57" x2="201.17" y2="144.57" stroke="#c4ccc6" stroke-width="0.6"/>
<line x1="199.77" y1="143.17" x2="199.77" y2="145.97" stroke="#c4ccc6" stroke-width="0.6"/>
<line x1="199.77" y1="136.20" x2="199.77" y2="138.60" stroke="#a8b2ac" stroke-width="0.5"/>
<line x1="191.33" y1="144.57" x2="193.73" y2="144.57" stroke="#a8b2ac" stroke-width="0.5"/>
<line x1="212.83" y1="87.23" x2="215.63" y2="87.23" stroke="#c4ccc6" stroke-width="0.6"/>
<line x1="214.23" y1="85.83" x2="214.23" y2="88.63" stroke="#c4ccc6" stroke-width="0.6"/>
<line x1="214.23" y1="78.87" x2="214.23" y2="81.27" stroke="#a8b2ac" stroke-width="0.5"/>
<line x1="205.80" y1="87.23" x2="208.20" y2="87.23" stroke="#a8b2ac" stroke-width="0.5"/>
<line x1="212.83" y1="101.57" x2="215.63" y2="101.57" stroke="#c4ccc6" stroke-width="0.6"/>
<line x1="214.23" y1="100.17" x2="214.23" y2="102.97" stroke="#c4ccc6" stroke-width="0.6"/>
<line x1="214.23" y1="93.20" x2="214.23" y2="95.60" stroke="#a8b2ac" stroke-width="0.5"/>
<line x1="205.80" y1="101.57" x2="208.20" y2="101.57" stroke="#a8b2ac" stroke-width="0.5"/>
<line x1="212.83" y1="115.90" x2="215.63" y2="115.90" stroke="#c4ccc6" stroke-width="0.6"/>
<line x1="214.23" y1="114.50" x2="214.23" y2="117.30" stroke="#c4ccc6" stroke-width="0.6"/>
<line x1="214.23" y1="107.53" x2="214.23" y2="109.93" stroke="#a8b2ac" stroke-width="0.5"/>
<line x1="205.80" y1="115.90" x2="208.20" y2="115.90" stroke="#a8b2ac" stroke-width="0.5"/>
<line x1="212.83" y1="130.23" x2="215.63" y2="130.23" stroke="#c4ccc6" stroke-width="0.6"/>
<line x1="214.23" y1="128.83" x2="214.23" y2="131.63" stroke="#c4ccc6" stroke-width="0.6"/>
<line x1="214.23" y1="121.87" x2="214.23" y2="124.27" stroke="#a8b2ac" stroke-width="0.5"/>
<line x1="205.80" y1="130.23" x2="208.20" y2="130.23" stroke="#a8b2ac" stroke-width="0.5"/>
<line x1="212.83" y1="144.57" x2="215.63" y2="144.57" stroke="#c4ccc6" stroke-width="0.6"/>
<line x1="214.23" y1="143.17" x2="214.23" y2="145.97" stroke="#c4ccc6" stroke-width="0.6"/>
<line x1="214.23" y1="136.20" x2="214.23" y2="138.60" stroke="#a8b2ac" stroke-width="0.5"/>
<line x1="205.80" y1="144.57" x2="208.20" y2="144.57" stroke="#a8b2ac" stroke-width="0.5"/>
<line x1="227.30" y1="87.23" x2="230.10" y2="87.23" stroke="#c4ccc6" stroke-width="0.6"/>
<line x1="228.70" y1="85.83" x2="228.70" y2="88.63" stroke="#c4ccc6" stroke-width="0.6"/>
<line x1="228.70" y1="78.87" x2="228.70" y2="81.27" stroke="#a8b2ac" stroke-width="0.5"/>
<line x1="220.27" y1="87.23" x2="222.67" y2="87.23" stroke="#a8b2ac" stroke-width="0.5"/>
<line x1="227.30" y1="101.57" x2="230.10" y2="101.57" stroke="#c4ccc6" stroke-width="0.6"/>
<line x1="228.70" y1="100.17" x2="228.70" y2="102.97" stroke="#c4ccc6" stroke-width="0.6"/>
<line x1="228.70" y1="93.20" x2="228.70" y2="95.60" stroke="#a8b2ac" stroke-width="0.5"/>
<line x1="220.27" y1="101.57" x2="222.67" y2="101.57" stroke="#a8b2ac" stroke-width="0.5"/>
<line x1="227.30" y1="115.90" x2="230.10" y2="115.90" stroke="#c4ccc6" stroke-width="0.6"/>
<line x1="228.70" y1="114.50" x2="228.70" y2="117.30" stroke="#c4ccc6" stroke-width="0.6"/>
<line x1="228.70" y1="107.53" x2="228.70" y2="109.93" stroke="#a8b2ac" stroke-width="0.5"/>
<line x1="220.27" y1="115.90" x2="222.67" y2="115.90" stroke="#a8b2ac" stroke-width="0.5"/>
<line x1="227.30" y1="130.23" x2="230.10" y2="130.23" stroke="#c4ccc6" stroke-width="0.6"/>
<line x1="228.70" y1="128.83" x2="228.70" y2="131.63" stroke="#c4ccc6" stroke-width="0.6"/>
<line x1="228.70" y1="121.87" x2="228.70" y2="124.27" stroke="#a8b2ac" stroke-width="0.5"/>
<line x1="220.27" y1="130.23" x2="222.67" y2="130.23" stroke="#a8b2ac" stroke-width="0.5"/>
<line x1="227.30" y1="144.57" x2="230.10" y2="144.57" stroke="#c4ccc6" stroke-width="0.6"/>
<line x1="228.70" y1="143.17" x2="228.70" y2="145.97" stroke="#c4ccc6" stroke-width="0.6"/>
<line x1="228.70" y1="136.20" x2="228.70" y2="138.60" stroke="#a8b2ac" stroke-width="0.5"/>
<line x1="220.27" y1="144.57" x2="222.67" y2="144.57" stroke="#a8b2ac" stroke-width="0.5"/>
<line x1="241.77" y1="87.23" x2="244.57" y2="87.23" stroke="#c4ccc6" stroke-width="0.6"/>
<line x1="243.17" y1="85.83" x2="243.17" y2="88.63" stroke="#c4ccc6" stroke-width="0.6"/>
<line x1="243.17" y1="78.87" x2="243.17" y2="81.27" stroke="#a8b2ac" stroke-width="0.5"/>
<line x1="234.73" y1="87.23" x2="237.13" y2="87.23" stroke="#a8b2ac" stroke-width="0.5"/>
<line x1="241.77" y1="101.57" x2="244.57" y2="101.57" stroke="#c4ccc6" stroke-width="0.6"/>
<line x1="243.17" y1="100.17" x2="243.17" y2="102.97" stroke="#c4ccc6" stroke-width="0.6"/>
<line x1="243.17" y1="93.20" x2="243.17" y2="95.60" stroke="#a8b2ac" stroke-width="0.5"/>
<line x1="234.73" y1="101.57" x2="237.13" y2="101.57" stroke="#a8b2ac" stroke-width="0.5"/>
<line x1="241.77" y1="115.90" x2="244.57" y2="115.90" stroke="#c4ccc6" stroke-width="0.6"/>
<line x1="243.17" y1="114.50" x2="243.17" y2="117.30" stroke="#c4ccc6" stroke-width="0.6"/>
<line x1="243.17" y1="107.53" x2="243.17" y2="109.93" stroke="#a8b2ac" stroke-width="0.5"/>
<line x1="234.73" y1="115.90" x2="237.13" y2="115.90" stroke="#a8b2ac" stroke-width="0.5"/>
<line x1="241.77" y1="130.23" x2="244.57" y2="130.23" stroke="#c4ccc6" stroke-width="0.6"/>
<line x1="243.17" y1="128.83" x2="243.17" y2="131.63" stroke="#c4ccc6" stroke-width="0.6"/>
<line x1="243.17" y1="121.87" x2="243.17" y2="124.27" stroke="#a8b2ac" stroke-width="0.5"/>
<line x1="234.73" y1="130.23" x2="237.13" y2="130.23" stroke="#a8b2ac" stroke-width="0.5"/>
<line x1="241.77" y1="144.57" x2="244.57" y2="144.57" stroke="#c4ccc6" stroke-width="0.6"/>
<line x1="243.17" y1="143.17" x2="243.17" y2="145.97" stroke="#c4ccc6" stroke-width="0.6"/>
<line x1="243.17" y1="136.20" x2="243.17" y2="138.60" stroke="#a8b2ac" stroke-width="0.5"/>
<line x1="234.73" y1="144.57" x2="237.13" y2="144.57" stroke="#a8b2ac" stroke-width="0.5"/>
<line x1="256.23" y1="87.23" x2="259.03" y2="87.23" stroke="#c4ccc6" stroke-width="0.6"/>
<line x1="257.63" y1="85.83" x2="257.63" y2="88.63" stroke="#c4ccc6" stroke-width="0.6"/>
<line x1="257.63" y1="78.87" x2="257.63" y2="81.27" stroke="#a8b2ac" stroke-width="0.5"/>
<line x1="249.20" y1="87.23" x2="251.60" y2="87.23" stroke="#a8b2ac" stroke-width="0.5"/>
<line x1="256.23" y1="101.57" x2="259.03" y2="101.57" stroke="#c4ccc6" stroke-width="0.6"/>
<line x1="257.63" y1="100.17" x2="257.63" y2="102.97" stroke="#c4ccc6" stroke-width="0.6"/>
<line x1="257.63" y1="93.20" x2="257.63" y2="95.60" stroke="#a8b2ac" stroke-width="0.5"/>
<line x1="249.20" y1="101.57" x2="251.60" y2="101.57" stroke="#a8b2ac" stroke-width="0.5"/>
<line x1="256.23" y1="115.90" x2="259.03" y2="115.90" stroke="#c4ccc6" stroke-width="0.6"/>
<line x1="257.63" y1="114.50" x2="257.63" y2="117.30" stroke="#c4ccc6" stroke-width="0.6"/>
<line x1="257.63" y1="107.53" x2="257.63" y2="109.93" stroke="#a8b2ac" stroke-width="0.5"/>
<line x1="249.20" y1="115.90" x2="251.60" y2="115.90" stroke="#a8b2ac" stroke-width="0.5"/>
<line x1="256.23" y1="130.23" x2="259.03" y2="130.23" stroke="#c4ccc6" stroke-width="0.6"/>
<line x1="257.63" y1="128.83" x2="257.63" y2="131.63" stroke="#c4ccc6" stroke-width="0.6"/>
<line x1="257.63" y1="121.87" x2="257.63" y2="124.27" stroke="#a8b2ac" stroke-width="0.5"/>
<line x1="249.20" y1="130.23" x2="251.60" y2="130.23" stroke="#a8b2ac" stroke-width="0.5"/>
<line x1="256.23" y1="144.57" x2="259.03" y2="144.57" stroke="#c4ccc6" stroke-width="0.6"/>
<line x1="257.63" y1="143.17" x2="257.63" y2="145.97" stroke="#c4ccc6" stroke-width="0.6"/>
<line x1="257.63" y1="136.20" x2="257.63" y2="138.60" stroke="#a8b2ac" stroke-width="0.5"/>
<line x1="249.20" y1="144.57" x2="251.60" y2="144.57" stroke="#a8b2ac" stroke-width="0.5"/>
</g>
<rect x="222.00" y="110.00" width="12.60" height="12.40" fill="#0e0e0e"/>
<rect x="207.00" y="94.40" width="43.40" height="43.00" fill="none" stroke="#ec2222" stroke-width="1.5" stroke-dasharray="3.2,2"/>
<path d="M61.30,23.20 C63.00,24.13 67.05,26.40 71.50,28.80 C75.95,31.20 82.52,34.40 88.00,37.60 C93.48,40.80 99.67,44.67 104.40,48.00 C109.13,51.33 112.97,54.18 116.40,57.60 C119.83,61.02 122.73,65.35 125.00,68.50 C127.27,71.65 128.33,73.98 130.00,76.50 C131.67,79.02 132.67,81.27 135.00,83.60 C137.33,85.93 141.33,88.35 144.00,90.50 C146.67,92.65 149.00,93.92 151.00,96.50 C153.00,99.08 154.67,102.42 156.00,106.00 C157.33,109.58 158.23,114.40 159.00,118.00 C159.77,121.60 159.93,123.43 160.60,127.60 C161.27,131.77 162.10,138.85 163.00,143.00 C163.90,147.15 164.83,150.20 166.00,152.50 C167.17,154.80 168.33,155.78 170.00,156.80 C171.67,157.82 173.83,158.18 176.00,158.60 C178.17,159.02 180.60,159.10 183.00,159.30 C185.40,159.50 186.07,159.60 190.40,159.80 C194.73,160.00 202.82,160.30 209.00,160.50 C215.18,160.70 224.42,160.92 227.50,161.00" fill="none" stroke="#0a0a0a" stroke-width="1.5"/>
<line x1="61.00" y1="18.07" x2="61.00" y2="29.13" stroke="#111" stroke-width="1.2"/>
<line x1="58.90" y1="18.07" x2="63.10" y2="18.07" stroke="#111" stroke-width="1.3"/>
<line x1="58.90" y1="29.13" x2="63.10" y2="29.13" stroke="#111" stroke-width="1.3"/>
<rect x="58.90" y="21.50" width="4.2" height="4.2" fill="#111"/>
<line x1="116.50" y1="49.67" x2="116.50" y2="60.33" stroke="#111" stroke-width="1.2"/>
<line x1="114.40" y1="49.67" x2="118.60" y2="49.67" stroke="#111" stroke-width="1.3"/>
<line x1="114.40" y1="60.33" x2="118.60" y2="60.33" stroke="#111" stroke-width="1.3"/>
<rect x="114.40" y="52.90" width="4.2" height="4.2" fill="#111"/>
<line x1="135.00" y1="81.46" x2="135.00" y2="89.36" stroke="#111" stroke-width="1.2"/>
<line x1="132.90" y1="81.46" x2="137.10" y2="81.46" stroke="#111" stroke-width="1.3"/>
<line x1="132.90" y1="89.36" x2="137.10" y2="89.36" stroke="#111" stroke-width="1.3"/>
<rect x="132.90" y="83.31" width="4.2" height="4.2" fill="#111"/>
<line x1="153.50" y1="95.29" x2="153.50" y2="101.61" stroke="#111" stroke-width="1.2"/>
<line x1="151.40" y1="95.29" x2="155.60" y2="95.29" stroke="#111" stroke-width="1.3"/>
<line x1="151.40" y1="101.61" x2="155.60" y2="101.61" stroke="#111" stroke-width="1.3"/>
<rect x="151.40" y="96.35" width="4.2" height="4.2" fill="#111"/>
<line x1="160.90" y1="124.52" x2="160.90" y2="131.63" stroke="#111" stroke-width="1.2"/>
<line x1="158.80" y1="124.52" x2="163.00" y2="124.52" stroke="#111" stroke-width="1.3"/>
<line x1="158.80" y1="131.63" x2="163.00" y2="131.63" stroke="#111" stroke-width="1.3"/>
<rect x="158.80" y="125.97" width="4.2" height="4.2" fill="#111"/>
<line x1="168.30" y1="153.55" x2="168.30" y2="159.48" stroke="#111" stroke-width="1.2"/>
<line x1="166.20" y1="153.55" x2="170.40" y2="153.55" stroke="#111" stroke-width="1.3"/>
<line x1="166.20" y1="159.48" x2="170.40" y2="159.48" stroke="#111" stroke-width="1.3"/>
<rect x="166.20" y="154.41" width="4.2" height="4.2" fill="#111"/>
<line x1="175.70" y1="156.32" x2="175.70" y2="159.87" stroke="#111" stroke-width="1.2"/>
<line x1="173.60" y1="156.32" x2="177.80" y2="156.32" stroke="#111" stroke-width="1.3"/>
<line x1="173.60" y1="159.87" x2="177.80" y2="159.87" stroke="#111" stroke-width="1.3"/>
<rect x="173.60" y="156.00" width="4.2" height="4.2" fill="#111"/>
<line x1="183.10" y1="157.70" x2="183.10" y2="160.86" stroke="#111" stroke-width="1.2"/>
<line x1="181.00" y1="157.70" x2="185.20" y2="157.70" stroke="#111" stroke-width="1.3"/>
<line x1="181.00" y1="160.86" x2="185.20" y2="160.86" stroke="#111" stroke-width="1.3"/>
<rect x="181.00" y="157.18" width="4.2" height="4.2" fill="#111"/>
<line x1="190.50" y1="158.09" x2="190.50" y2="161.25" stroke="#111" stroke-width="1.2"/>
<line x1="188.40" y1="158.09" x2="192.60" y2="158.09" stroke="#111" stroke-width="1.3"/>
<line x1="188.40" y1="161.25" x2="192.60" y2="161.25" stroke="#111" stroke-width="1.3"/>
<rect x="188.40" y="157.57" width="4.2" height="4.2" fill="#111"/>
<line x1="209.00" y1="159.08" x2="209.00" y2="161.85" stroke="#111" stroke-width="1.2"/>
<line x1="206.90" y1="159.08" x2="211.10" y2="159.08" stroke="#111" stroke-width="1.3"/>
<line x1="206.90" y1="161.85" x2="211.10" y2="161.85" stroke="#111" stroke-width="1.3"/>
<rect x="206.90" y="158.37" width="4.2" height="4.2" fill="#111"/>
<line x1="227.50" y1="159.87" x2="227.50" y2="162.64" stroke="#111" stroke-width="1.2"/>
<line x1="225.40" y1="159.87" x2="229.60" y2="159.87" stroke="#111" stroke-width="1.3"/>
<line x1="225.40" y1="162.64" x2="229.60" y2="162.64" stroke="#111" stroke-width="1.3"/>
<rect x="225.40" y="159.16" width="4.2" height="4.2" fill="#111"/>
<text x="0.00" y="0.00" font-size="14.20" font-weight="bold" text-anchor="start" fill="#111" transform="translate(280.4,17) scale(0.86,1)">b</text>
<path d="M316.00,45.40 C352.33,45.40 497.67,45.40 534.00,45.40" fill="none" stroke="#1fc3cb" stroke-width="1.30"/>
<path d="M316.00,45.40 C330.00,45.43 381.67,45.57 400.00,45.60 C418.33,45.63 418.33,45.37 426.00,45.60 C433.67,45.83 439.33,46.27 446.00,47.00 C452.67,47.73 459.33,48.33 466.00,50.00 C472.67,51.67 479.33,54.17 486.00,57.00 C492.67,59.83 500.33,64.25 506.00,67.00 C511.67,69.75 515.33,71.33 520.00,73.50 C524.67,75.67 531.67,78.92 534.00,80.00" fill="none" stroke="#2fa567" stroke-width="1.30"/>
<path d="M316.00,56.00 C318.00,55.67 323.00,55.17 328.00,54.00 C333.00,52.83 339.67,50.27 346.00,49.00 C352.33,47.73 357.67,46.83 366.00,46.40 C374.33,45.97 389.00,46.23 396.00,46.40 C403.00,46.57 403.00,46.47 408.00,47.40 C413.00,48.33 419.67,50.23 426.00,52.00 C432.33,53.77 440.17,55.83 446.00,58.00 C451.83,60.17 456.00,61.83 461.00,65.00 C466.00,68.17 470.17,72.00 476.00,77.00 C481.83,82.00 489.33,89.67 496.00,95.00 C502.67,100.33 509.67,105.17 516.00,109.00 C522.33,112.83 531.00,116.50 534.00,118.00" fill="none" stroke="#1e66dd" stroke-width="1.30"/>
<path d="M316.00,87.40 C317.67,87.00 322.00,87.07 326.00,85.00 C330.00,82.93 335.00,78.33 340.00,75.00 C345.00,71.67 350.67,67.50 356.00,65.00 C361.33,62.50 367.17,61.00 372.00,60.00 C376.83,59.00 380.00,58.83 385.00,59.00 C390.00,59.17 397.17,59.50 402.00,61.00 C406.83,62.50 410.00,65.17 414.00,68.00 C418.00,70.83 420.67,73.83 426.00,78.00 C431.33,82.17 439.33,88.33 446.00,93.00 C452.67,97.67 459.33,101.42 466.00,106.00 C472.67,110.58 478.67,115.58 486.00,120.50 C493.33,125.42 502.00,131.42 510.00,135.50 C518.00,139.58 530.00,143.42 534.00,145.00" fill="none" stroke="#e6e24e" stroke-width="1.30"/>
<path d="M316.00,131.00 C317.00,131.00 319.83,131.67 322.00,131.00 C324.17,130.33 326.67,128.83 329.00,127.00 C331.33,125.17 333.17,122.83 336.00,120.00 C338.83,117.17 342.33,113.00 346.00,110.00 C349.67,107.00 354.33,104.33 358.00,102.00 C361.67,99.67 365.00,97.40 368.00,96.00 C371.00,94.60 373.17,94.17 376.00,93.60 C378.83,93.03 381.67,92.37 385.00,92.60 C388.33,92.83 392.83,93.93 396.00,95.00 C399.17,96.07 401.00,96.83 404.00,99.00 C407.00,101.17 411.00,105.00 414.00,108.00 C417.00,111.00 418.17,113.00 422.00,117.00 C425.83,121.00 431.83,127.77 437.00,132.00 C442.17,136.23 448.17,139.23 453.00,142.40 C457.83,145.57 461.17,147.98 466.00,151.00 C470.83,154.02 476.67,157.50 482.00,160.50 C487.33,163.50 492.50,167.28 498.00,169.00 C503.50,170.72 509.00,170.37 515.00,170.80 C521.00,171.23 530.83,171.47 534.00,171.60" fill="none" stroke="#474747" stroke-width="1.30"/>
<path d="M316.00,45.40 C343.33,45.43 450.00,45.50 480.00,45.60 C510.00,45.70 490.00,45.53 496.00,46.00 C502.00,46.47 509.67,47.57 516.00,48.40 C522.33,49.23 531.00,50.57 534.00,51.00" fill="none" stroke="#a462dc" stroke-width="1.30"/>
<rect x="316.00" y="7.40" width="218.00" height="175.60" fill="none" stroke="#000" stroke-width="1.45"/>
<line x1="313.40" y1="176.40" x2="316.00" y2="176.40" stroke="#000" stroke-width="1.3"/>
<text x="0" y="0" font-size="9.70" font-weight="bold" text-anchor="end" fill="#111" transform="translate(309.60,178.70) scale(0.900,1)">0</text>
<line x1="313.40" y1="150.20" x2="316.00" y2="150.20" stroke="#000" stroke-width="1.3"/>
<text x="0" y="0" font-size="9.70" font-weight="bold" text-anchor="end" fill="#111" transform="translate(309.60,152.50) scale(0.900,1)">20</text>
<line x1="313.40" y1="124.00" x2="316.00" y2="124.00" stroke="#000" stroke-width="1.3"/>
<text x="0" y="0" font-size="9.70" font-weight="bold" text-anchor="end" fill="#111" transform="translate(309.60,126.30) scale(0.900,1)">40</text>
<line x1="313.40" y1="97.80" x2="316.00" y2="97.80" stroke="#000" stroke-width="1.3"/>
<text x="0" y="0" font-size="9.70" font-weight="bold" text-anchor="end" fill="#111" transform="translate(309.60,100.10) scale(0.900,1)">60</text>
<line x1="313.40" y1="71.60" x2="316.00" y2="71.60" stroke="#000" stroke-width="1.3"/>
<text x="0" y="0" font-size="9.70" font-weight="bold" text-anchor="end" fill="#111" transform="translate(309.60,73.90) scale(0.900,1)">80</text>
<line x1="313.40" y1="45.40" x2="316.00" y2="45.40" stroke="#000" stroke-width="1.3"/>
<text x="0" y="0" font-size="9.70" font-weight="bold" text-anchor="end" fill="#111" transform="translate(309.60,47.70) scale(0.900,1)">100</text>
<line x1="313.40" y1="19.20" x2="316.00" y2="19.20" stroke="#000" stroke-width="1.3"/>
<text x="0" y="0" font-size="9.70" font-weight="bold" text-anchor="end" fill="#111" transform="translate(309.60,21.50) scale(0.900,1)">120</text>
<line x1="316.00" y1="183.00" x2="316.00" y2="185.60" stroke="#000" stroke-width="1.3"/>
<text x="0" y="0" font-size="9.70" font-weight="bold" text-anchor="middle" fill="#111" transform="translate(316.00,195.20) scale(0.900,1)">400</text>
<line x1="388.94" y1="183.00" x2="388.94" y2="185.60" stroke="#000" stroke-width="1.3"/>
<text x="0" y="0" font-size="9.70" font-weight="bold" text-anchor="middle" fill="#111" transform="translate(388.94,195.20) scale(0.900,1)">600</text>
<line x1="461.88" y1="183.00" x2="461.88" y2="185.60" stroke="#000" stroke-width="1.3"/>
<text x="0" y="0" font-size="9.70" font-weight="bold" text-anchor="middle" fill="#111" transform="translate(461.88,195.20) scale(0.900,1)">800</text>
<line x1="534.82" y1="183.00" x2="534.82" y2="185.60" stroke="#000" stroke-width="1.3"/>
<text x="0" y="0" font-size="9.70" font-weight="bold" text-anchor="middle" fill="#111" transform="translate(534.82,195.20) scale(0.900,1)">1000</text>
<text x="425.00" y="208.50" font-size="11.00" font-weight="bold" text-anchor="middle" fill="#111" >Wavelength (nm)</text>
<text x="0.00" y="0.00" font-size="11.20" font-weight="bold" text-anchor="middle" fill="#111" transform="translate(291.6,94.7) rotate(-90)">Absorbance (%)</text>
<line x1="337.00" y1="21" x2="348.00" y2="21" stroke="#474747" stroke-width="1.3"/>
<text x="344.40" y="31.50" font-size="6.75" font-weight="bold" text-anchor="middle" fill="#111" >0.0 mg/mL</text>
<line x1="373.60" y1="21" x2="385.60" y2="21" stroke="#e6e24e" stroke-width="1.3"/>
<text x="380.20" y="31.50" font-size="6.75" font-weight="bold" text-anchor="middle" fill="#111" >0.2 mg/mL</text>
<line x1="410.40" y1="21" x2="422.00" y2="21" stroke="#1e66dd" stroke-width="1.3"/>
<text x="416.50" y="31.50" font-size="6.75" font-weight="bold" text-anchor="middle" fill="#111" >0.5 mg/mL</text>
<line x1="443.60" y1="21" x2="455.60" y2="21" stroke="#2fa567" stroke-width="1.3"/>
<text x="450.00" y="31.50" font-size="6.75" font-weight="bold" text-anchor="middle" fill="#111" >1 mg/mL</text>
<line x1="477.00" y1="21" x2="489.00" y2="21" stroke="#a462dc" stroke-width="1.3"/>
<text x="480.50" y="31.50" font-size="6.75" font-weight="bold" text-anchor="middle" fill="#111" >2 mg/mL</text>
<line x1="508.00" y1="21" x2="520.00" y2="21" stroke="#1fc3cb" stroke-width="1.3"/>
<text x="511.50" y="31.50" font-size="6.75" font-weight="bold" text-anchor="middle" fill="#111" >3 mg/mL</text>
<ellipse cx="343.6" cy="27.9" rx="19.2" ry="9.4" fill="none" stroke="#1a1a1a" stroke-width="1.45" stroke-dasharray="3.2,2"/>
<ellipse cx="480.6" cy="28" rx="16.4" ry="9" fill="none" stroke="#a462dc" stroke-width="1.4" stroke-dasharray="3.2,2"/>
<line x1="465.60" y1="41.00" x2="465.60" y2="163.30" stroke="#ea2020" stroke-width="1.70" stroke-dasharray="3.6,2.2"/>
<text x="467.30" y="172.70" font-size="8.60" font-weight="bold" text-anchor="middle" fill="#e8262a" >808 nm</text>
<rect x="344" y="120" width="46.4" height="46.4" fill="#9ab4be"/>
<rect x="349" y="130" width="39" height="27.5" fill="#a0bac3"/>
<text x="366.60" y="148.80" font-size="14.40" font-weight="normal" text-anchor="middle" fill="#4686b8" stroke="#4686b8" stroke-width="0.35">HNU</text>
<rect x="373.6" y="161.8" width="12" height="1.4" fill="#fff"/>
<rect x="344" y="120" width="46.4" height="46.4" fill="none" stroke="#1a1a1a" stroke-width="1.5" stroke-dasharray="3,1.9"/>
<line x1="344.00" y1="37.50" x2="365.20" y2="124.00" stroke="#1a1a1a" stroke-width="1.45" stroke-dasharray="3.2,2"/>
<path d="M362.6,121 L366,127.8 L367.2,120.4 Z" fill="#222"/>
<rect x="406" y="120" width="47" height="46" fill="#9fb6b8"/>
<path d="M412.4,129.6 L447.6,129.2 L447.6,156.4 L412.8,156.8 Z" fill="#0d0e2c"/>
<rect x="436" y="161.8" width="12" height="1.4" fill="#fff"/>
<rect x="406" y="120" width="47" height="46" fill="none" stroke="#a462dc" stroke-width="1.45" stroke-dasharray="3,1.9"/>
<line x1="479.00" y1="37.00" x2="428.50" y2="125.50" stroke="#a462dc" stroke-width="1.40" stroke-dasharray="3.2,2"/>
<text x="0.00" y="0.00" font-size="14.20" font-weight="bold" text-anchor="start" fill="#111" transform="translate(8,241) scale(0.86,1)">c</text>
<rect x="33.40" y="232.40" width="198.60" height="160.40" fill="none" stroke="#000" stroke-width="1.45"/>
<line x1="30.40" y1="392.80" x2="33.40" y2="392.80" stroke="#000" stroke-width="1.3"/>
<text x="0" y="0" font-size="9.70" font-weight="bold" text-anchor="end" fill="#111" transform="translate(27.60,395.20) scale(0.900,1)">20</text>
<line x1="31.40" y1="379.17" x2="33.40" y2="379.17" stroke="#000" stroke-width="1.3"/>
<line x1="30.40" y1="365.54" x2="33.40" y2="365.54" stroke="#000" stroke-width="1.3"/>
<text x="0" y="0" font-size="9.70" font-weight="bold" text-anchor="end" fill="#111" transform="translate(27.60,367.94) scale(0.900,1)">30</text>
<line x1="31.40" y1="351.91" x2="33.40" y2="351.91" stroke="#000" stroke-width="1.3"/>
<line x1="30.40" y1="338.28" x2="33.40" y2="338.28" stroke="#000" stroke-width="1.3"/>
<text x="0" y="0" font-size="9.70" font-weight="bold" text-anchor="end" fill="#111" transform="translate(27.60,340.68) scale(0.900,1)">40</text>
<line x1="31.40" y1="324.65" x2="33.40" y2="324.65" stroke="#000" stroke-width="1.3"/>
<line x1="30.40" y1="311.02" x2="33.40" y2="311.02" stroke="#000" stroke-width="1.3"/>
<text x="0" y="0" font-size="9.70" font-weight="bold" text-anchor="end" fill="#111" transform="translate(27.60,313.42) scale(0.900,1)">50</text>
<line x1="31.40" y1="297.39" x2="33.40" y2="297.39" stroke="#000" stroke-width="1.3"/>
<line x1="30.40" y1="283.76" x2="33.40" y2="283.76" stroke="#000" stroke-width="1.3"/>
<text x="0" y="0" font-size="9.70" font-weight="bold" text-anchor="end" fill="#111" transform="translate(27.60,286.16) scale(0.900,1)">60</text>
<line x1="31.40" y1="270.13" x2="33.40" y2="270.13" stroke="#000" stroke-width="1.3"/>
<line x1="30.40" y1="256.50" x2="33.40" y2="256.50" stroke="#000" stroke-width="1.3"/>
<text x="0" y="0" font-size="9.70" font-weight="bold" text-anchor="end" fill="#111" transform="translate(27.60,258.90) scale(0.900,1)">70</text>
<line x1="31.40" y1="242.87" x2="33.40" y2="242.87" stroke="#000" stroke-width="1.3"/>
<line x1="33.00" y1="392.80" x2="33.00" y2="394.80" stroke="#000" stroke-width="1.3"/>
<line x1="58.00" y1="392.80" x2="58.00" y2="395.80" stroke="#000" stroke-width="1.3"/>
<text x="0" y="0" font-size="9.70" font-weight="bold" text-anchor="middle" fill="#111" transform="translate(58.20,404.50) scale(0.900,1)">0</text>
<line x1="83.00" y1="392.80" x2="83.00" y2="394.80" stroke="#000" stroke-width="1.3"/>
<line x1="108.00" y1="392.80" x2="108.00" y2="395.80" stroke="#000" stroke-width="1.3"/>
<text x="0" y="0" font-size="9.70" font-weight="bold" text-anchor="middle" fill="#111" transform="translate(108.20,404.50) scale(0.900,1)">20</text>
<line x1="133.00" y1="392.80" x2="133.00" y2="394.80" stroke="#000" stroke-width="1.3"/>
<line x1="158.00" y1="392.80" x2="158.00" y2="395.80" stroke="#000" stroke-width="1.3"/>
<text x="0" y="0" font-size="9.70" font-weight="bold" text-anchor="middle" fill="#111" transform="translate(158.20,404.50) scale(0.900,1)">40</text>
<line x1="183.00" y1="392.80" x2="183.00" y2="394.80" stroke="#000" stroke-width="1.3"/>
<line x1="208.00" y1="392.80" x2="208.00" y2="395.80" stroke="#000" stroke-width="1.3"/>
<text x="0" y="0" font-size="9.70" font-weight="bold" text-anchor="middle" fill="#111" transform="translate(208.20,404.50) scale(0.900,1)">60</text>
<line x1="233.00" y1="392.80" x2="233.00" y2="394.80" stroke="#000" stroke-width="1.3"/>
<text x="133.30" y="419.00" font-size="9.90" font-weight="bold" text-anchor="middle" fill="#111" >Time (s)</text>
<text x="0.00" y="0.00" font-size="10.10" font-weight="bold" text-anchor="middle" fill="#111" transform="translate(10,312) rotate(-90)">Temperature (°C)</text>
<path d="M58.00,381.90 C62.17,381.90 74.67,381.90 83.00,381.90 C91.33,381.90 99.67,381.94 108.00,381.90 C116.33,381.85 124.67,381.67 133.00,381.62 C141.33,381.58 149.67,381.67 158.00,381.62 C166.33,381.58 174.67,381.44 183.00,381.35 C191.33,381.26 203.83,381.12 208.00,381.08" fill="none" stroke="#4a4a4a" stroke-width="1.3"/>
<path d="M58.00,381.90 C60.08,380.76 66.33,377.72 70.50,375.08 C74.67,372.45 78.83,369.40 83.00,366.09 C87.17,362.77 91.33,358.13 95.50,355.18 C99.67,352.23 103.83,350.00 108.00,348.37 C112.17,346.73 116.33,346.19 120.50,345.37 C124.67,344.55 126.75,344.14 133.00,343.46 C139.25,342.78 149.67,341.91 158.00,341.28 C166.33,340.64 174.67,340.14 183.00,339.64 C191.33,339.14 203.83,338.51 208.00,338.28" fill="none" stroke="#e8403c" stroke-width="1.3"/>
<path d="M58.00,381.90 C59.04,379.85 62.17,373.49 64.25,369.63 C66.33,365.77 67.38,363.31 70.50,358.73 C73.62,354.14 78.83,346.64 83.00,342.10 C87.17,337.55 91.33,334.01 95.50,331.47 C99.67,328.92 103.83,327.88 108.00,326.83 C112.17,325.79 116.33,325.60 120.50,325.20 C124.67,324.79 126.75,324.74 133.00,324.38 C139.25,324.01 149.67,323.40 158.00,323.01 C166.33,322.63 174.67,322.42 183.00,322.06 C191.33,321.70 203.83,321.04 208.00,320.83" fill="none" stroke="#1f66e0" stroke-width="1.3"/>
<path d="M58.00,381.90 C59.04,378.72 62.17,368.95 64.25,362.81 C66.33,356.68 67.38,351.91 70.50,345.10 C73.62,338.28 78.83,327.74 83.00,321.92 C87.17,316.11 91.33,312.84 95.50,310.20 C99.67,307.57 103.83,307.25 108.00,306.11 C112.17,304.98 116.33,304.11 120.50,303.39 C124.67,302.66 126.75,302.48 133.00,301.75 C139.25,301.02 149.67,299.75 158.00,299.03 C166.33,298.30 174.67,297.80 183.00,297.39 C191.33,296.98 203.83,296.71 208.00,296.57" fill="none" stroke="#2aa86a" stroke-width="1.3"/>
<path d="M58.00,381.90 C59.04,378.26 62.17,367.08 64.25,360.09 C66.33,353.09 67.38,347.91 70.50,339.92 C73.62,331.92 78.83,319.02 83.00,312.11 C87.17,305.20 91.33,301.71 95.50,298.48 C99.67,295.25 103.83,294.16 108.00,292.76 C112.17,291.35 116.33,290.71 120.50,290.03 C124.67,289.35 126.75,289.30 133.00,288.67 C139.25,288.03 149.67,286.99 158.00,286.21 C166.33,285.44 174.67,284.80 183.00,284.03 C191.33,283.26 203.83,281.99 208.00,281.58" fill="none" stroke="#a464dc" stroke-width="1.3"/>
<path d="M58.00,381.90 C59.04,377.99 62.17,365.90 64.25,358.45 C66.33,351.00 67.38,345.50 70.50,337.19 C73.62,328.88 78.83,315.75 83.00,308.57 C87.17,301.39 91.33,297.62 95.50,294.12 C99.67,290.62 103.83,289.08 108.00,287.58 C112.17,286.08 116.33,285.80 120.50,285.12 C124.67,284.44 126.75,284.31 133.00,283.49 C139.25,282.67 149.67,281.26 158.00,280.22 C166.33,279.17 174.67,278.13 183.00,277.22 C191.33,276.31 203.83,275.17 208.00,274.76" fill="none" stroke="#d39a1a" stroke-width="1.3"/>
<rect x="55.80" y="379.70" width="4.40" height="4.40" fill="#4a4a4a"/>
<rect x="80.80" y="379.70" width="4.40" height="4.40" fill="#4a4a4a"/>
<rect x="105.80" y="379.70" width="4.40" height="4.40" fill="#4a4a4a"/>
<rect x="130.80" y="379.42" width="4.40" height="4.40" fill="#4a4a4a"/>
<rect x="155.80" y="379.42" width="4.40" height="4.40" fill="#4a4a4a"/>
<rect x="180.80" y="379.15" width="4.40" height="4.40" fill="#4a4a4a"/>
<rect x="205.80" y="378.88" width="4.40" height="4.40" fill="#4a4a4a"/>
<circle cx="58.00" cy="381.90" r="2.50" fill="#e8403c"/>
<circle cx="83.00" cy="367.45" r="2.50" fill="#e8403c"/>
<circle cx="108.00" cy="347.28" r="2.50" fill="#e8403c"/>
<circle cx="133.00" cy="343.19" r="2.50" fill="#e8403c"/>
<circle cx="158.00" cy="341.28" r="2.50" fill="#e8403c"/>
<circle cx="183.00" cy="339.37" r="2.50" fill="#e8403c"/>
<circle cx="208.00" cy="338.28" r="2.50" fill="#e8403c"/>
<path d="M58.00,379.10 L55.40,383.90 L60.60,383.90 Z" fill="#1f66e0"/>
<path d="M83.00,331.66 L80.40,336.46 L85.60,336.46 Z" fill="#1f66e0"/>
<path d="M108.00,322.40 L105.40,327.20 L110.60,327.20 Z" fill="#1f66e0"/>
<path d="M133.00,321.85 L130.40,326.65 L135.60,326.65 Z" fill="#1f66e0"/>
<path d="M158.00,320.21 L155.40,325.01 L160.60,325.01 Z" fill="#1f66e0"/>
<path d="M183.00,319.40 L180.40,324.20 L185.60,324.20 Z" fill="#1f66e0"/>
<path d="M208.00,318.03 L205.40,322.83 L210.60,322.83 Z" fill="#1f66e0"/>
<path d="M58.00,384.70 L55.40,379.90 L60.60,379.90 Z" fill="#2aa86a"/>
<path d="M83.00,315.73 L80.40,310.93 L85.60,310.93 Z" fill="#2aa86a"/>
<path d="M108.00,308.64 L105.40,303.84 L110.60,303.84 Z" fill="#2aa86a"/>
<path d="M133.00,304.28 L130.40,299.48 L135.60,299.48 Z" fill="#2aa86a"/>
<path d="M158.00,301.83 L155.40,297.03 L160.60,297.03 Z" fill="#2aa86a"/>
<path d="M183.00,299.92 L180.40,295.12 L185.60,295.12 Z" fill="#2aa86a"/>
<path d="M208.00,299.37 L205.40,294.57 L210.60,294.57 Z" fill="#2aa86a"/>
<path d="M58.00,379.10 L60.40,381.90 L58.00,384.70 L55.60,381.90 Z" fill="#a464dc"/>
<path d="M83.00,298.68 L85.40,301.48 L83.00,304.28 L80.60,301.48 Z" fill="#a464dc"/>
<path d="M108.00,289.41 L110.40,292.21 L108.00,295.01 L105.60,292.21 Z" fill="#a464dc"/>
<path d="M133.00,285.59 L135.40,288.39 L133.00,291.19 L130.60,288.39 Z" fill="#a464dc"/>
<path d="M158.00,283.69 L160.40,286.49 L158.00,289.29 L155.60,286.49 Z" fill="#a464dc"/>
<path d="M183.00,281.23 L185.40,284.03 L183.00,286.83 L180.60,284.03 Z" fill="#a464dc"/>
<path d="M208.00,278.78 L210.40,281.58 L208.00,284.38 L205.60,281.58 Z" fill="#a464dc"/>
<path d="M55.20,381.90 L60.00,379.30 L60.00,384.50 Z" fill="#d39a1a"/>
<path d="M80.20,296.30 L85.00,293.70 L85.00,298.90 Z" fill="#d39a1a"/>
<path d="M105.20,286.76 L110.00,284.16 L110.00,289.36 Z" fill="#d39a1a"/>
<path d="M130.20,283.49 L135.00,280.89 L135.00,286.09 Z" fill="#d39a1a"/>
<path d="M155.20,279.94 L160.00,277.34 L160.00,282.54 Z" fill="#d39a1a"/>
<path d="M180.20,276.94 L185.00,274.35 L185.00,279.54 Z" fill="#d39a1a"/>
<path d="M205.20,274.49 L210.00,271.89 L210.00,277.09 Z" fill="#d39a1a"/>
<line x1="39.00" y1="243.40" x2="58.00" y2="243.40" stroke="#4a4a4a" stroke-width="1.3"/>
<rect x="46.80" y="241.60" width="3.60" height="3.60" fill="#4a4a4a"/>
<text x="60.00" y="246.50" font-size="8.20" font-weight="bold" text-anchor="start" fill="#111" >0 mg/mL</text>
<line x1="102.00" y1="243.40" x2="121.00" y2="243.40" stroke="#e8403c" stroke-width="1.3"/>
<circle cx="111.60" cy="243.40" r="2.10" fill="#e8403c"/>
<text x="123.60" y="246.50" font-size="8.20" font-weight="bold" text-anchor="start" fill="#111" >0.2 mg/mL</text>
<line x1="166.00" y1="243.40" x2="185.00" y2="243.40" stroke="#1f66e0" stroke-width="1.3"/>
<path d="M175.60,241.00 L173.40,245.00 L177.80,245.00 Z" fill="#1f66e0"/>
<text x="187.00" y="246.50" font-size="8.20" font-weight="bold" text-anchor="start" fill="#111" >0.5 mg/mL</text>
<line x1="39.00" y1="260.60" x2="58.00" y2="260.60" stroke="#2aa86a" stroke-width="1.3"/>
<path d="M48.60,263.00 L46.40,259.00 L50.80,259.00 Z" fill="#2aa86a"/>
<text x="60.00" y="263.70" font-size="8.20" font-weight="bold" text-anchor="start" fill="#111" >1.0 mg/mL</text>
<line x1="102.00" y1="260.60" x2="121.00" y2="260.60" stroke="#a464dc" stroke-width="1.3"/>
<path d="M111.60,258.20 L113.60,260.60 L111.60,263.00 L109.60,260.60 Z" fill="#a464dc"/>
<text x="123.60" y="263.70" font-size="8.20" font-weight="bold" text-anchor="start" fill="#111" >2.0 mg/mL</text>
<line x1="166.00" y1="260.60" x2="185.00" y2="260.60" stroke="#d39a1a" stroke-width="1.3"/>
<path d="M173.20,260.60 L177.20,258.40 L177.20,262.80 Z" fill="#d39a1a"/>
<text x="187.00" y="263.70" font-size="8.20" font-weight="bold" text-anchor="start" fill="#111" >3.0 mg/mL</text>
<text x="0.00" y="0.00" font-size="14.20" font-weight="bold" text-anchor="start" fill="#111" transform="translate(250.6,241) scale(0.86,1)">d</text>
<text x="0.00" y="0.00" font-size="10.00" font-weight="bold" text-anchor="middle" fill="#111" transform="translate(256.30,254.60) scale(0.92,1)">7.5</text>
<text x="0.00" y="0.00" font-size="10.00" font-weight="bold" text-anchor="middle" fill="#111" transform="translate(257.60,265.60) scale(0.92,1)">W/cm<tspan font-size="6.5" dy="-3.5">2</tspan></text>
<text x="0.00" y="0.00" font-size="10.00" font-weight="bold" text-anchor="middle" fill="#111" transform="translate(256.30,287.80) scale(0.92,1)">4.0</text>
<text x="0.00" y="0.00" font-size="10.00" font-weight="bold" text-anchor="middle" fill="#111" transform="translate(257.60,298.80) scale(0.92,1)">W/cm<tspan font-size="6.5" dy="-3.5">2</tspan></text>
<text x="0.00" y="0.00" font-size="10.00" font-weight="bold" text-anchor="middle" fill="#111" transform="translate(256.30,321.00) scale(0.92,1)">3.0</text>
<text x="0.00" y="0.00" font-size="10.00" font-weight="bold" text-anchor="middle" fill="#111" transform="translate(257.60,332.00) scale(0.92,1)">W/cm<tspan font-size="6.5" dy="-3.5">2</tspan></text>
<text x="0.00" y="0.00" font-size="10.00" font-weight="bold" text-anchor="middle" fill="#111" transform="translate(256.30,354.20) scale(0.92,1)">2.0</text>
<text x="0.00" y="0.00" font-size="10.00" font-weight="bold" text-anchor="middle" fill="#111" transform="translate(257.60,365.20) scale(0.92,1)">W/cm<tspan font-size="6.5" dy="-3.5">2</tspan></text>
<text x="0.00" y="0.00" font-size="10.00" font-weight="bold" text-anchor="middle" fill="#111" transform="translate(256.30,387.40) scale(0.92,1)">1.0</text>
<text x="0.00" y="0.00" font-size="10.00" font-weight="bold" text-anchor="middle" fill="#111" transform="translate(257.60,398.40) scale(0.92,1)">W/cm<tspan font-size="6.5" dy="-3.5">2</tspan></text>
<rect x="280.20" y="240.40" width="29.60" height="29.10" fill="url(#grayph)"/>
<circle cx="294.70" cy="255.00" r="9.9" fill="#2a2540"/>
<rect x="300.70" y="266.00" width="6.5" height="1.6" fill="#f4f4f4"/>
<rect x="311.40" y="240.40" width="29.60" height="29.10" fill="url(#bgblue)"/>
<circle cx="326.20" cy="254.95" r="7.10" fill="url(#sp0_1)" clip-path="url(#cl0_1)"/>
<rect x="342.60" y="240.40" width="29.60" height="29.10" fill="url(#bgblue)"/>
<circle cx="357.40" cy="254.95" r="10.30" fill="url(#sp0_2)" clip-path="url(#cl0_2)"/>
<rect x="373.80" y="240.40" width="29.60" height="29.10" fill="url(#bgblue)"/>
<circle cx="388.60" cy="254.95" r="12.50" fill="url(#sp0_3)" clip-path="url(#cl0_3)"/>
<rect x="405.00" y="240.40" width="29.60" height="29.10" fill="url(#bgblue)"/>
<circle cx="419.80" cy="254.95" r="14.00" fill="url(#sp0_4)" clip-path="url(#cl0_4)"/>
<rect x="436.20" y="240.40" width="29.60" height="29.10" fill="url(#bgblue)"/>
<circle cx="451.00" cy="254.95" r="15.00" fill="url(#sp0_5)" clip-path="url(#cl0_5)"/>
<rect x="467.40" y="240.40" width="29.60" height="29.10" fill="url(#bgblue)"/>
<circle cx="482.20" cy="254.95" r="15.50" fill="url(#sp0_6)" clip-path="url(#cl0_6)"/>
<rect x="280.20" y="273.55" width="29.60" height="29.10" fill="url(#grayph)"/>
<circle cx="294.70" cy="288.15" r="9.9" fill="#2a2540"/>
<rect x="300.70" y="299.15" width="6.5" height="1.6" fill="#f4f4f4"/>
<rect x="311.40" y="273.55" width="29.60" height="29.10" fill="url(#bgblue)"/>
<circle cx="326.20" cy="288.10" r="5.60" fill="url(#sp1_1)" clip-path="url(#cl1_1)"/>
<rect x="342.60" y="273.55" width="29.60" height="29.10" fill="url(#bgblue)"/>
<circle cx="357.40" cy="288.10" r="8.70" fill="url(#sp1_2)" clip-path="url(#cl1_2)"/>
<rect x="373.80" y="273.55" width="29.60" height="29.10" fill="url(#bgblue)"/>
<circle cx="388.60" cy="288.10" r="10.10" fill="url(#sp1_3)" clip-path="url(#cl1_3)"/>
<rect x="405.00" y="273.55" width="29.60" height="29.10" fill="url(#bgblue)"/>
<circle cx="419.80" cy="288.10" r="11.50" fill="url(#sp1_4)" clip-path="url(#cl1_4)"/>
<rect x="436.20" y="273.55" width="29.60" height="29.10" fill="url(#bgblue)"/>
<circle cx="451.00" cy="288.10" r="12.80" fill="url(#sp1_5)" clip-path="url(#cl1_5)"/>
<rect x="467.40" y="273.55" width="29.60" height="29.10" fill="url(#bgblue)"/>
<circle cx="482.20" cy="288.10" r="13.40" fill="url(#sp1_6)" clip-path="url(#cl1_6)"/>
<rect x="280.20" y="306.70" width="29.60" height="29.10" fill="url(#grayph)"/>
<circle cx="294.70" cy="321.30" r="9.9" fill="#2a2540"/>
<rect x="300.70" y="332.30" width="6.5" height="1.6" fill="#f4f4f4"/>
<rect x="311.40" y="306.70" width="29.60" height="29.10" fill="url(#bgblue)"/>
<circle cx="326.20" cy="321.25" r="4.80" fill="url(#sp2_1)" clip-path="url(#cl2_1)"/>
<rect x="342.60" y="306.70" width="29.60" height="29.10" fill="url(#bgblue)"/>
<circle cx="357.40" cy="321.25" r="7.80" fill="url(#sp2_2)" clip-path="url(#cl2_2)"/>
<rect x="373.80" y="306.70" width="29.60" height="29.10" fill="url(#bgblue)"/>
<circle cx="388.60" cy="321.25" r="9.60" fill="url(#sp2_3)" clip-path="url(#cl2_3)"/>
<rect x="405.00" y="306.70" width="29.60" height="29.10" fill="url(#bgblue)"/>
<circle cx="419.80" cy="321.25" r="11.00" fill="url(#sp2_4)" clip-path="url(#cl2_4)"/>
<rect x="436.20" y="306.70" width="29.60" height="29.10" fill="url(#bgblue)"/>
<circle cx="451.00" cy="321.25" r="12.00" fill="url(#sp2_5)" clip-path="url(#cl2_5)"/>
<rect x="467.40" y="306.70" width="29.60" height="29.10" fill="url(#bgblue)"/>
<circle cx="482.20" cy="321.25" r="12.50" fill="url(#sp2_6)" clip-path="url(#cl2_6)"/>
<rect x="280.20" y="339.85" width="29.60" height="29.10" fill="url(#grayph)"/>
<circle cx="294.70" cy="354.45" r="9.9" fill="#2a2540"/>
<rect x="300.70" y="365.45" width="6.5" height="1.6" fill="#f4f4f4"/>
<rect x="311.40" y="339.85" width="29.60" height="29.10" fill="url(#bgblue)"/>
<circle cx="326.20" cy="354.40" r="4.00" fill="url(#sp3_1)" clip-path="url(#cl3_1)"/>
<rect x="342.60" y="339.85" width="29.60" height="29.10" fill="url(#bgblue)"/>
<circle cx="357.40" cy="354.40" r="7.50" fill="url(#sp3_2)" clip-path="url(#cl3_2)"/>
<rect x="373.80" y="339.85" width="29.60" height="29.10" fill="url(#bgblue)"/>
<circle cx="388.60" cy="354.40" r="9.00" fill="url(#sp3_3)" clip-path="url(#cl3_3)"/>
<rect x="405.00" y="339.85" width="29.60" height="29.10" fill="url(#bgblue)"/>
<circle cx="419.80" cy="354.40" r="10.50" fill="url(#sp3_4)" clip-path="url(#cl3_4)"/>
<rect x="436.20" y="339.85" width="29.60" height="29.10" fill="url(#bgblue)"/>
<circle cx="451.00" cy="354.40" r="11.50" fill="url(#sp3_5)" clip-path="url(#cl3_5)"/>
<rect x="467.40" y="339.85" width="29.60" height="29.10" fill="url(#bgblue)"/>
<circle cx="482.20" cy="354.40" r="12.00" fill="url(#sp3_6)" clip-path="url(#cl3_6)"/>
<rect x="280.20" y="373.00" width="29.60" height="29.10" fill="url(#grayph)"/>
<circle cx="294.70" cy="387.60" r="9.9" fill="#2a2540"/>
<rect x="300.70" y="398.60" width="6.5" height="1.6" fill="#f4f4f4"/>
<rect x="311.40" y="373.00" width="29.60" height="29.10" fill="url(#bgblue2)"/>
<circle cx="326.20" cy="387.55" r="2.50" fill="url(#sp4_1)" clip-path="url(#cl4_1)"/>
<rect x="342.60" y="373.00" width="29.60" height="29.10" fill="url(#bgblue2)"/>
<circle cx="357.40" cy="387.55" r="6.50" fill="url(#sp4_2)" clip-path="url(#cl4_2)"/>
<rect x="373.80" y="373.00" width="29.60" height="29.10" fill="url(#bgblue2)"/>
<circle cx="388.60" cy="387.55" r="8.50" fill="url(#sp4_3)" clip-path="url(#cl4_3)"/>
<rect x="405.00" y="373.00" width="29.60" height="29.10" fill="url(#bgblue2)"/>
<circle cx="419.80" cy="387.55" r="10.50" fill="url(#sp4_4)" clip-path="url(#cl4_4)"/>
<rect x="436.20" y="373.00" width="29.60" height="29.10" fill="url(#bgblue2)"/>
<circle cx="451.00" cy="387.55" r="12.00" fill="url(#sp4_5)" clip-path="url(#cl4_5)"/>
<rect x="467.40" y="373.00" width="29.60" height="29.10" fill="url(#bgblue2)"/>
<circle cx="482.20" cy="387.55" r="13.00" fill="url(#sp4_6)" clip-path="url(#cl4_6)"/>
<rect x="508.6" y="240.4" width="8.4" height="161.4" fill="url(#cbar)"/>
<line x1="517" y1="240.90" x2="520" y2="240.90" stroke="#333" stroke-width="0.8"/>
<text x="522.30" y="244.30" font-size="9.50" font-weight="bold" text-anchor="start" fill="#111" >60 °C</text>
<line x1="517" y1="281.20" x2="520" y2="281.20" stroke="#333" stroke-width="0.8"/>
<text x="522.30" y="284.60" font-size="9.50" font-weight="bold" text-anchor="start" fill="#111" >50 °C</text>
<line x1="517" y1="321.50" x2="520" y2="321.50" stroke="#333" stroke-width="0.8"/>
<text x="522.30" y="324.90" font-size="9.50" font-weight="bold" text-anchor="start" fill="#111" >40 °C</text>
<line x1="517" y1="361.80" x2="520" y2="361.80" stroke="#333" stroke-width="0.8"/>
<text x="522.30" y="365.20" font-size="9.50" font-weight="bold" text-anchor="start" fill="#111" >30 °C</text>
<line x1="517" y1="402.10" x2="520" y2="402.10" stroke="#333" stroke-width="0.8"/>
<text x="522.30" y="405.50" font-size="9.50" font-weight="bold" text-anchor="start" fill="#111" >20 °C</text>
<rect x="277.2" y="236" width="2.8" height="168.9" fill="#f80c0c"/>
<path d="M278.6,228.2 L283.4,238.1 L273.8,238.1 Z" fill="#f80c0c"/>
<rect x="277.2" y="402.1" width="226" height="2.8" fill="#f80c0c"/>
<path d="M510.8,403.5 L501.2,398.7 L501.2,408.3 Z" fill="#f80c0c"/>
<text x="0.00" y="0.00" font-size="10.00" font-weight="bold" text-anchor="middle" fill="#111" transform="translate(295.00,419.2) scale(0.93,1)">0 s</text>
<text x="0.00" y="0.00" font-size="10.00" font-weight="bold" text-anchor="middle" fill="#111" transform="translate(326.20,419.2) scale(0.93,1)">10 s</text>
<text x="0.00" y="0.00" font-size="10.00" font-weight="bold" text-anchor="middle" fill="#111" transform="translate(357.40,419.2) scale(0.93,1)">20 s</text>
<text x="0.00" y="0.00" font-size="10.00" font-weight="bold" text-anchor="middle" fill="#111" transform="translate(388.60,419.2) scale(0.93,1)">30 s</text>
<text x="0.00" y="0.00" font-size="10.00" font-weight="bold" text-anchor="middle" fill="#111" transform="translate(419.80,419.2) scale(0.93,1)">40 s</text>
<text x="0.00" y="0.00" font-size="10.00" font-weight="bold" text-anchor="middle" fill="#111" transform="translate(451.00,419.2) scale(0.93,1)">50 s</text>
<text x="0.00" y="0.00" font-size="10.00" font-weight="bold" text-anchor="middle" fill="#111" transform="translate(482.20,419.2) scale(0.93,1)">60 s</text></svg>
</body></html>
